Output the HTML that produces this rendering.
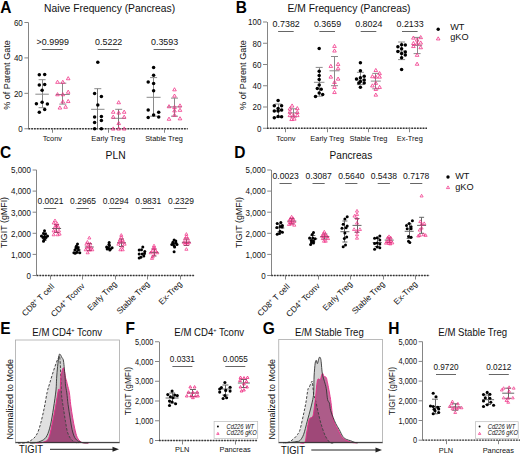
<!DOCTYPE html>
<html><head><meta charset="utf-8"><style>
html,body{margin:0;padding:0;background:#fff;width:520px;height:457px;overflow:hidden;position:relative;font-family:"Liberation Sans", sans-serif}
svg text{stroke:none}
</style></head><body>
<svg width="520" height="457" viewBox="0 0 520 457" style="position:absolute;left:0;top:0;font-family:'Liberation Sans', sans-serif">
<rect width="520" height="457" fill="#fff"/>
<text x="0" y="0" font-size="15.5" text-anchor="start" font-weight="bold" font-style="normal" fill="#000" transform="translate(0.3 12.6) scale(1 1.1)">A</text>
<text x="44" y="12" font-size="10.3" text-anchor="start" font-weight="normal" font-style="normal" fill="#111">Naive Frequency (Pancreas)</text>
<line x1="28.5" y1="22.5" x2="28.5" y2="128.75" stroke="#858585" stroke-width="1"/>
<line x1="24.4" y1="128.75" x2="28.4" y2="128.75" stroke="#858585" stroke-width="1"/>
<text x="0" y="0" font-size="8.0" text-anchor="end" font-weight="normal" font-style="normal" fill="#111" transform="translate(22.799999999999997 132.062) scale(1 1.15)">0</text>
<line x1="24.4" y1="93.33333333333334" x2="28.4" y2="93.33333333333334" stroke="#858585" stroke-width="1"/>
<text x="0" y="0" font-size="8.0" text-anchor="end" font-weight="normal" font-style="normal" fill="#111" transform="translate(22.799999999999997 96.64533333333334) scale(1 1.15)">20</text>
<line x1="24.4" y1="57.91666666666667" x2="28.4" y2="57.91666666666667" stroke="#858585" stroke-width="1"/>
<text x="0" y="0" font-size="8.0" text-anchor="end" font-weight="normal" font-style="normal" fill="#111" transform="translate(22.799999999999997 61.22866666666667) scale(1 1.15)">40</text>
<line x1="24.4" y1="22.5" x2="28.4" y2="22.5" stroke="#858585" stroke-width="1"/>
<text x="0" y="0" font-size="8.0" text-anchor="end" font-weight="normal" font-style="normal" fill="#111" transform="translate(22.799999999999997 25.812) scale(1 1.15)">60</text>
<text x="10.4" y="75" font-size="9.1" text-anchor="middle" font-weight="normal" font-style="normal" fill="#111" transform="rotate(-90 10.4 75)">% of Parent Gate</text>
<line x1="28.4" y1="128.75" x2="187.7" y2="128.75" stroke="#ccc" stroke-width="1.0"/>
<line x1="28.4" y1="128.75" x2="187.7" y2="128.75" stroke="#333" stroke-width="1.3" stroke-dasharray="1.7 1.13"/>
<line x1="52.5" y1="128.75" x2="52.5" y2="132.75" stroke="#858585" stroke-width="1"/>
<line x1="108.5" y1="128.75" x2="108.5" y2="132.75" stroke="#858585" stroke-width="1"/>
<line x1="164.5" y1="128.75" x2="164.5" y2="132.75" stroke="#858585" stroke-width="1"/>
<text x="52.3" y="141.2" font-size="7.4" text-anchor="middle" font-weight="normal" font-style="normal" fill="#111">Tconv</text>
<text x="108.2" y="141.2" font-size="7.4" text-anchor="middle" font-weight="normal" font-style="normal" fill="#111">Early Treg</text>
<text x="164.1" y="141.2" font-size="7.4" text-anchor="middle" font-weight="normal" font-style="normal" fill="#111">Stable Treg</text>
<text x="0" y="0" font-size="8.9" text-anchor="middle" font-weight="normal" font-style="normal" fill="#111" transform="translate(52.8 44.6) scale(1 1.1)">&gt;0.9999</text>
<line x1="41.8" y1="49.5" x2="62.8" y2="49.5" stroke="#666" stroke-width="1"/>
<text x="0" y="0" font-size="8.9" text-anchor="middle" font-weight="normal" font-style="normal" fill="#111" transform="translate(108.7 44.6) scale(1 1.1)">0.5222</text>
<line x1="97.7" y1="49.5" x2="118.7" y2="49.5" stroke="#666" stroke-width="1"/>
<text x="0" y="0" font-size="8.9" text-anchor="middle" font-weight="normal" font-style="normal" fill="#111" transform="translate(164.6 44.6) scale(1 1.1)">0.3593</text>
<line x1="153.6" y1="49.5" x2="174.6" y2="49.5" stroke="#666" stroke-width="1"/>
<line x1="42.5" y1="79.7" x2="42.5" y2="107.7" stroke="#8a8a8a" stroke-width="1"/>
<line x1="38.6" y1="79.7" x2="45.6" y2="79.7" stroke="#8a8a8a" stroke-width="1"/>
<line x1="38.6" y1="107.7" x2="45.6" y2="107.7" stroke="#8a8a8a" stroke-width="1"/>
<line x1="35.35" y1="94.2" x2="48.85" y2="94.2" stroke="#8a8a8a" stroke-width="1"/>
<circle cx="39.30" cy="74.70" r="1.75" fill="#000"/>
<circle cx="44.70" cy="74.40" r="1.75" fill="#000"/>
<circle cx="39.30" cy="84.90" r="1.75" fill="#000"/>
<circle cx="44.70" cy="84.60" r="1.75" fill="#000"/>
<circle cx="42.10" cy="90.20" r="1.75" fill="#000"/>
<circle cx="42.10" cy="102.30" r="1.75" fill="#000"/>
<circle cx="36.40" cy="103.70" r="1.75" fill="#000"/>
<circle cx="47.40" cy="104.10" r="1.75" fill="#000"/>
<circle cx="44.70" cy="109.40" r="1.75" fill="#000"/>
<circle cx="39.30" cy="112.20" r="1.75" fill="#000"/>
<line x1="62.5" y1="83.2" x2="62.5" y2="104.1" stroke="#8a8a8a" stroke-width="1"/>
<line x1="59.3" y1="83.2" x2="66.3" y2="83.2" stroke="#8a8a8a" stroke-width="1"/>
<line x1="59.3" y1="104.1" x2="66.3" y2="104.1" stroke="#8a8a8a" stroke-width="1"/>
<line x1="55.8" y1="94.5" x2="69.8" y2="94.5" stroke="#8a8a8a" stroke-width="1"/>
<path d="M68.20 76.62 L70.00 79.75 L66.40 79.75 Z" fill="#fff" fill-opacity="0.0" stroke="#f02a82" stroke-width="0.75" stroke-linejoin="round"/>
<path d="M57.50 80.22 L59.30 83.35 L55.70 83.35 Z" fill="#fff" fill-opacity="0.0" stroke="#f02a82" stroke-width="0.75" stroke-linejoin="round"/>
<path d="M62.80 80.22 L64.60 83.35 L61.00 83.35 Z" fill="#fff" fill-opacity="0.0" stroke="#f02a82" stroke-width="0.75" stroke-linejoin="round"/>
<path d="M57.50 92.62 L59.30 95.75 L55.70 95.75 Z" fill="#fff" fill-opacity="0.0" stroke="#f02a82" stroke-width="0.75" stroke-linejoin="round"/>
<path d="M68.20 90.12 L70.00 93.25 L66.40 93.25 Z" fill="#fff" fill-opacity="0.0" stroke="#f02a82" stroke-width="0.75" stroke-linejoin="round"/>
<path d="M62.80 92.62 L64.60 95.75 L61.00 95.75 Z" fill="#fff" fill-opacity="0.0" stroke="#f02a82" stroke-width="0.75" stroke-linejoin="round"/>
<path d="M62.80 99.82 L64.60 102.95 L61.00 102.95 Z" fill="#fff" fill-opacity="0.0" stroke="#f02a82" stroke-width="0.75" stroke-linejoin="round"/>
<path d="M68.20 99.42 L70.00 102.55 L66.40 102.55 Z" fill="#fff" fill-opacity="0.0" stroke="#f02a82" stroke-width="0.75" stroke-linejoin="round"/>
<path d="M59.90 105.92 L61.70 109.05 L58.10 109.05 Z" fill="#fff" fill-opacity="0.0" stroke="#f02a82" stroke-width="0.75" stroke-linejoin="round"/>
<path d="M65.60 105.12 L67.40 108.25 L63.80 108.25 Z" fill="#fff" fill-opacity="0.0" stroke="#f02a82" stroke-width="0.75" stroke-linejoin="round"/>
<line x1="94.3" y1="88.7" x2="101.3" y2="88.7" stroke="#8a8a8a" stroke-width="1"/>
<line x1="91.1" y1="109.3" x2="104.5" y2="109.3" stroke="#8a8a8a" stroke-width="1"/>
<line x1="97.5" y1="88.7" x2="97.5" y2="128.75" stroke="#777" stroke-width="1"/>
<circle cx="97.80" cy="62.20" r="1.75" fill="#000"/>
<circle cx="94.60" cy="93.50" r="1.75" fill="#000"/>
<circle cx="101.40" cy="96.50" r="1.75" fill="#000"/>
<circle cx="97.80" cy="104.90" r="1.75" fill="#000"/>
<circle cx="94.60" cy="117.00" r="1.75" fill="#000"/>
<circle cx="101.40" cy="116.40" r="1.75" fill="#000"/>
<circle cx="94.60" cy="122.50" r="1.75" fill="#000"/>
<circle cx="101.40" cy="120.50" r="1.75" fill="#000"/>
<circle cx="94.60" cy="128.80" r="1.75" fill="#000"/>
<circle cx="101.40" cy="128.80" r="1.75" fill="#000"/>
<line x1="115.2" y1="109.3" x2="122.2" y2="109.3" stroke="#8a8a8a" stroke-width="1"/>
<line x1="111.7" y1="118.3" x2="125.7" y2="118.3" stroke="#8a8a8a" stroke-width="1"/>
<line x1="118.5" y1="109.3" x2="118.5" y2="128.75" stroke="#777" stroke-width="1"/>
<path d="M118.70 100.62 L120.50 103.75 L116.90 103.75 Z" fill="#fff" fill-opacity="0.0" stroke="#f02a82" stroke-width="0.75" stroke-linejoin="round"/>
<path d="M113.20 110.12 L115.00 113.25 L111.40 113.25 Z" fill="#fff" fill-opacity="0.0" stroke="#f02a82" stroke-width="0.75" stroke-linejoin="round"/>
<path d="M118.70 110.92 L120.50 114.05 L116.90 114.05 Z" fill="#fff" fill-opacity="0.0" stroke="#f02a82" stroke-width="0.75" stroke-linejoin="round"/>
<path d="M124.20 110.12 L126.00 113.25 L122.40 113.25 Z" fill="#fff" fill-opacity="0.0" stroke="#f02a82" stroke-width="0.75" stroke-linejoin="round"/>
<path d="M113.20 115.12 L115.00 118.25 L111.40 118.25 Z" fill="#fff" fill-opacity="0.0" stroke="#f02a82" stroke-width="0.75" stroke-linejoin="round"/>
<path d="M124.20 115.12 L126.00 118.25 L122.40 118.25 Z" fill="#fff" fill-opacity="0.0" stroke="#f02a82" stroke-width="0.75" stroke-linejoin="round"/>
<path d="M118.70 121.42 L120.50 124.55 L116.90 124.55 Z" fill="#fff" fill-opacity="0.0" stroke="#f02a82" stroke-width="0.75" stroke-linejoin="round"/>
<path d="M113.20 126.92 L115.00 130.05 L111.40 130.05 Z" fill="#fff" fill-opacity="0.0" stroke="#f02a82" stroke-width="0.75" stroke-linejoin="round"/>
<path d="M118.70 126.92 L120.50 130.05 L116.90 130.05 Z" fill="#fff" fill-opacity="0.0" stroke="#f02a82" stroke-width="0.75" stroke-linejoin="round"/>
<path d="M124.20 126.92 L126.00 130.05 L122.40 130.05 Z" fill="#fff" fill-opacity="0.0" stroke="#f02a82" stroke-width="0.75" stroke-linejoin="round"/>
<line x1="153.5" y1="77.6" x2="153.5" y2="116.2" stroke="#8a8a8a" stroke-width="1"/>
<line x1="150.1" y1="77.6" x2="157.1" y2="77.6" stroke="#8a8a8a" stroke-width="1"/>
<line x1="150.1" y1="116.2" x2="157.1" y2="116.2" stroke="#8a8a8a" stroke-width="1"/>
<line x1="146.6" y1="97.3" x2="160.6" y2="97.3" stroke="#8a8a8a" stroke-width="1"/>
<circle cx="153.60" cy="67.40" r="1.75" fill="#000"/>
<circle cx="153.60" cy="75.30" r="1.75" fill="#000"/>
<circle cx="148.20" cy="82.00" r="1.75" fill="#000"/>
<circle cx="153.60" cy="83.60" r="1.75" fill="#000"/>
<circle cx="153.60" cy="90.70" r="1.75" fill="#000"/>
<circle cx="148.20" cy="110.10" r="1.75" fill="#000"/>
<circle cx="158.70" cy="112.30" r="1.75" fill="#000"/>
<circle cx="153.60" cy="115.10" r="1.75" fill="#000"/>
<circle cx="148.20" cy="117.50" r="1.75" fill="#000"/>
<circle cx="158.70" cy="117.00" r="1.75" fill="#000"/>
<line x1="174.5" y1="98.1" x2="174.5" y2="116.2" stroke="#8a8a8a" stroke-width="1"/>
<line x1="171.0" y1="98.1" x2="178.0" y2="98.1" stroke="#8a8a8a" stroke-width="1"/>
<line x1="171.0" y1="116.2" x2="178.0" y2="116.2" stroke="#8a8a8a" stroke-width="1"/>
<line x1="167.5" y1="106.9" x2="181.5" y2="106.9" stroke="#8a8a8a" stroke-width="1"/>
<path d="M174.50 87.72 L176.30 90.85 L172.70 90.85 Z" fill="#fff" fill-opacity="0.0" stroke="#f02a82" stroke-width="0.75" stroke-linejoin="round"/>
<path d="M174.50 94.02 L176.30 97.15 L172.70 97.15 Z" fill="#fff" fill-opacity="0.0" stroke="#f02a82" stroke-width="0.75" stroke-linejoin="round"/>
<path d="M169.00 104.62 L170.80 107.75 L167.20 107.75 Z" fill="#fff" fill-opacity="0.0" stroke="#f02a82" stroke-width="0.75" stroke-linejoin="round"/>
<path d="M180.00 103.82 L181.80 106.95 L178.20 106.95 Z" fill="#fff" fill-opacity="0.0" stroke="#f02a82" stroke-width="0.75" stroke-linejoin="round"/>
<path d="M180.00 108.22 L181.80 111.35 L178.20 111.35 Z" fill="#fff" fill-opacity="0.0" stroke="#f02a82" stroke-width="0.75" stroke-linejoin="round"/>
<path d="M174.50 108.82 L176.30 111.95 L172.70 111.95 Z" fill="#fff" fill-opacity="0.0" stroke="#f02a82" stroke-width="0.75" stroke-linejoin="round"/>
<path d="M174.50 113.22 L176.30 116.35 L172.70 116.35 Z" fill="#fff" fill-opacity="0.0" stroke="#f02a82" stroke-width="0.75" stroke-linejoin="round"/>
<path d="M169.00 117.12 L170.80 120.25 L167.20 120.25 Z" fill="#fff" fill-opacity="0.0" stroke="#f02a82" stroke-width="0.75" stroke-linejoin="round"/>
<path d="M180.00 116.72 L181.80 119.85 L178.20 119.85 Z" fill="#fff" fill-opacity="0.0" stroke="#f02a82" stroke-width="0.75" stroke-linejoin="round"/>
<path d="M174.50 105.32 L176.30 108.45 L172.70 108.45 Z" fill="#fff" fill-opacity="0.0" stroke="#f02a82" stroke-width="0.75" stroke-linejoin="round"/>
<text x="0" y="0" font-size="15.5" text-anchor="start" font-weight="bold" font-style="normal" fill="#000" transform="translate(235.8 12.6) scale(1 1.1)">B</text>
<text x="287.5" y="12" font-size="10.3" text-anchor="start" font-weight="normal" font-style="normal" fill="#111">E/M Frequency (Pancreas)</text>
<line x1="267.5" y1="22" x2="267.5" y2="128.25" stroke="#858585" stroke-width="1"/>
<line x1="263.0" y1="128.25" x2="267.0" y2="128.25" stroke="#858585" stroke-width="1"/>
<text x="0" y="0" font-size="8.0" text-anchor="end" font-weight="normal" font-style="normal" fill="#111" transform="translate(261.4 131.562) scale(1 1.15)">0</text>
<line x1="263.0" y1="107.0" x2="267.0" y2="107.0" stroke="#858585" stroke-width="1"/>
<text x="0" y="0" font-size="8.0" text-anchor="end" font-weight="normal" font-style="normal" fill="#111" transform="translate(261.4 110.312) scale(1 1.15)">20</text>
<line x1="263.0" y1="85.75" x2="267.0" y2="85.75" stroke="#858585" stroke-width="1"/>
<text x="0" y="0" font-size="8.0" text-anchor="end" font-weight="normal" font-style="normal" fill="#111" transform="translate(261.4 89.062) scale(1 1.15)">40</text>
<line x1="263.0" y1="64.5" x2="267.0" y2="64.5" stroke="#858585" stroke-width="1"/>
<text x="0" y="0" font-size="8.0" text-anchor="end" font-weight="normal" font-style="normal" fill="#111" transform="translate(261.4 67.812) scale(1 1.15)">60</text>
<line x1="263.0" y1="43.25" x2="267.0" y2="43.25" stroke="#858585" stroke-width="1"/>
<text x="0" y="0" font-size="8.0" text-anchor="end" font-weight="normal" font-style="normal" fill="#111" transform="translate(261.4 46.562) scale(1 1.15)">80</text>
<line x1="263.0" y1="22.0" x2="267.0" y2="22.0" stroke="#858585" stroke-width="1"/>
<text x="0" y="0" font-size="8.0" text-anchor="end" font-weight="normal" font-style="normal" fill="#111" transform="translate(261.4 25.312) scale(1 1.15)">100</text>
<text x="245.6" y="75" font-size="9.1" text-anchor="middle" font-weight="normal" font-style="normal" fill="#111" transform="rotate(-90 245.6 75)">% of Parent Gate</text>
<line x1="267.0" y1="128.25" x2="427" y2="128.25" stroke="#ccc" stroke-width="1.0"/>
<line x1="267.0" y1="128.25" x2="427" y2="128.25" stroke="#333" stroke-width="1.3" stroke-dasharray="1.7 1.13"/>
<line x1="285.5" y1="128.25" x2="285.5" y2="132.25" stroke="#858585" stroke-width="1"/>
<line x1="327.5" y1="128.25" x2="327.5" y2="132.25" stroke="#858585" stroke-width="1"/>
<line x1="368.5" y1="128.25" x2="368.5" y2="132.25" stroke="#858585" stroke-width="1"/>
<line x1="409.5" y1="128.25" x2="409.5" y2="132.25" stroke="#858585" stroke-width="1"/>
<text x="285.9" y="140.5" font-size="7.4" text-anchor="middle" font-weight="normal" font-style="normal" fill="#111">Tconv</text>
<text x="327.2" y="140.5" font-size="7.4" text-anchor="middle" font-weight="normal" font-style="normal" fill="#111">Early Treg</text>
<text x="368.5" y="140.5" font-size="7.4" text-anchor="middle" font-weight="normal" font-style="normal" fill="#111">Stable Treg</text>
<text x="409.8" y="140.5" font-size="7.4" text-anchor="middle" font-weight="normal" font-style="normal" fill="#111">Ex-Treg</text>
<text x="0" y="0" font-size="8.9" text-anchor="middle" font-weight="normal" font-style="normal" fill="#111" transform="translate(286.2 26.5) scale(1 1.1)">0.7382</text>
<line x1="278.09999999999997" y1="31.5" x2="293.7" y2="31.5" stroke="#666" stroke-width="1"/>
<text x="0" y="0" font-size="8.9" text-anchor="middle" font-weight="normal" font-style="normal" fill="#111" transform="translate(327.5 26.5) scale(1 1.1)">0.3659</text>
<line x1="319.4" y1="31.5" x2="335.0" y2="31.5" stroke="#666" stroke-width="1"/>
<text x="0" y="0" font-size="8.9" text-anchor="middle" font-weight="normal" font-style="normal" fill="#111" transform="translate(368.8 26.5) scale(1 1.1)">0.8024</text>
<line x1="360.7" y1="31.5" x2="376.3" y2="31.5" stroke="#666" stroke-width="1"/>
<text x="0" y="0" font-size="8.9" text-anchor="middle" font-weight="normal" font-style="normal" fill="#111" transform="translate(410.1 26.5) scale(1 1.1)">0.2133</text>
<line x1="402.0" y1="31.5" x2="417.6" y2="31.5" stroke="#666" stroke-width="1"/>
<line x1="278.5" y1="104" x2="278.5" y2="117.5" stroke="#8a8a8a" stroke-width="1"/>
<line x1="274.6" y1="104" x2="281.6" y2="104" stroke="#8a8a8a" stroke-width="1"/>
<line x1="274.6" y1="117.5" x2="281.6" y2="117.5" stroke="#8a8a8a" stroke-width="1"/>
<line x1="273.1" y1="110.8" x2="283.1" y2="110.8" stroke="#8a8a8a" stroke-width="1"/>
<circle cx="278.10" cy="100.50" r="1.75" fill="#000"/>
<circle cx="274.30" cy="105.80" r="1.75" fill="#000"/>
<circle cx="281.60" cy="105.80" r="1.75" fill="#000"/>
<circle cx="278.10" cy="108.40" r="1.75" fill="#000"/>
<circle cx="274.30" cy="111.00" r="1.75" fill="#000"/>
<circle cx="281.60" cy="110.10" r="1.75" fill="#000"/>
<circle cx="278.10" cy="111.00" r="1.75" fill="#000"/>
<circle cx="274.30" cy="117.80" r="1.75" fill="#000"/>
<circle cx="278.10" cy="116.40" r="1.75" fill="#000"/>
<circle cx="281.60" cy="116.70" r="1.75" fill="#000"/>
<line x1="293.5" y1="108.8" x2="293.5" y2="117" stroke="#8a8a8a" stroke-width="1"/>
<line x1="289.9" y1="108.8" x2="296.9" y2="108.8" stroke="#8a8a8a" stroke-width="1"/>
<line x1="289.9" y1="117" x2="296.9" y2="117" stroke="#8a8a8a" stroke-width="1"/>
<line x1="288.4" y1="112.9" x2="298.4" y2="112.9" stroke="#8a8a8a" stroke-width="1"/>
<path d="M292.10 103.92 L293.90 107.05 L290.30 107.05 Z" fill="#fff" fill-opacity="0.0" stroke="#f02a82" stroke-width="0.75" stroke-linejoin="round"/>
<path d="M289.90 106.92 L291.70 110.05 L288.10 110.05 Z" fill="#fff" fill-opacity="0.0" stroke="#f02a82" stroke-width="0.75" stroke-linejoin="round"/>
<path d="M297.30 106.52 L299.10 109.65 L295.50 109.65 Z" fill="#fff" fill-opacity="0.0" stroke="#f02a82" stroke-width="0.75" stroke-linejoin="round"/>
<path d="M289.90 113.52 L291.70 116.65 L288.10 116.65 Z" fill="#fff" fill-opacity="0.0" stroke="#f02a82" stroke-width="0.75" stroke-linejoin="round"/>
<path d="M293.40 113.52 L295.20 116.65 L291.60 116.65 Z" fill="#fff" fill-opacity="0.0" stroke="#f02a82" stroke-width="0.75" stroke-linejoin="round"/>
<path d="M297.30 113.52 L299.10 116.65 L295.50 116.65 Z" fill="#fff" fill-opacity="0.0" stroke="#f02a82" stroke-width="0.75" stroke-linejoin="round"/>
<path d="M291.60 117.42 L293.40 120.55 L289.80 120.55 Z" fill="#fff" fill-opacity="0.0" stroke="#f02a82" stroke-width="0.75" stroke-linejoin="round"/>
<path d="M294.30 117.02 L296.10 120.15 L292.50 120.15 Z" fill="#fff" fill-opacity="0.0" stroke="#f02a82" stroke-width="0.75" stroke-linejoin="round"/>
<path d="M289.90 110.12 L291.70 113.25 L288.10 113.25 Z" fill="#fff" fill-opacity="0.0" stroke="#f02a82" stroke-width="0.75" stroke-linejoin="round"/>
<path d="M297.30 110.42 L299.10 113.55 L295.50 113.55 Z" fill="#fff" fill-opacity="0.0" stroke="#f02a82" stroke-width="0.75" stroke-linejoin="round"/>
<line x1="319.5" y1="67.4" x2="319.5" y2="96.2" stroke="#8a8a8a" stroke-width="1"/>
<line x1="315.7" y1="67.4" x2="322.7" y2="67.4" stroke="#8a8a8a" stroke-width="1"/>
<line x1="315.7" y1="96.2" x2="322.7" y2="96.2" stroke="#8a8a8a" stroke-width="1"/>
<line x1="313.95" y1="82.3" x2="324.45" y2="82.3" stroke="#8a8a8a" stroke-width="1"/>
<circle cx="319.20" cy="48.50" r="1.75" fill="#000"/>
<circle cx="319.20" cy="71.20" r="1.75" fill="#000"/>
<circle cx="319.20" cy="75.40" r="1.75" fill="#000"/>
<circle cx="319.20" cy="79.50" r="1.75" fill="#000"/>
<circle cx="319.20" cy="85.10" r="1.75" fill="#000"/>
<circle cx="317.30" cy="88.50" r="1.75" fill="#000"/>
<circle cx="321.20" cy="89.20" r="1.75" fill="#000"/>
<circle cx="319.20" cy="93.10" r="1.75" fill="#000"/>
<circle cx="322.70" cy="94.60" r="1.75" fill="#000"/>
<circle cx="315.50" cy="96.50" r="1.75" fill="#000"/>
<line x1="334.5" y1="56.5" x2="334.5" y2="85.7" stroke="#8a8a8a" stroke-width="1"/>
<line x1="331.0" y1="56.5" x2="338.0" y2="56.5" stroke="#8a8a8a" stroke-width="1"/>
<line x1="331.0" y1="85.7" x2="338.0" y2="85.7" stroke="#8a8a8a" stroke-width="1"/>
<line x1="329.5" y1="70.8" x2="339.5" y2="70.8" stroke="#8a8a8a" stroke-width="1"/>
<path d="M334.50 44.32 L336.30 47.45 L332.70 47.45 Z" fill="#fff" fill-opacity="0.0" stroke="#f02a82" stroke-width="0.75" stroke-linejoin="round"/>
<path d="M334.50 48.92 L336.30 52.05 L332.70 52.05 Z" fill="#fff" fill-opacity="0.0" stroke="#f02a82" stroke-width="0.75" stroke-linejoin="round"/>
<path d="M330.80 64.32 L332.60 67.45 L329.00 67.45 Z" fill="#fff" fill-opacity="0.0" stroke="#f02a82" stroke-width="0.75" stroke-linejoin="round"/>
<path d="M338.10 62.32 L339.90 65.45 L336.30 65.45 Z" fill="#fff" fill-opacity="0.0" stroke="#f02a82" stroke-width="0.75" stroke-linejoin="round"/>
<path d="M338.10 66.62 L339.90 69.75 L336.30 69.75 Z" fill="#fff" fill-opacity="0.0" stroke="#f02a82" stroke-width="0.75" stroke-linejoin="round"/>
<path d="M330.80 75.02 L332.60 78.15 L329.00 78.15 Z" fill="#fff" fill-opacity="0.0" stroke="#f02a82" stroke-width="0.75" stroke-linejoin="round"/>
<path d="M338.10 77.02 L339.90 80.15 L336.30 80.15 Z" fill="#fff" fill-opacity="0.0" stroke="#f02a82" stroke-width="0.75" stroke-linejoin="round"/>
<path d="M334.50 80.42 L336.30 83.55 L332.70 83.55 Z" fill="#fff" fill-opacity="0.0" stroke="#f02a82" stroke-width="0.75" stroke-linejoin="round"/>
<path d="M334.50 85.32 L336.30 88.45 L332.70 88.45 Z" fill="#fff" fill-opacity="0.0" stroke="#f02a82" stroke-width="0.75" stroke-linejoin="round"/>
<path d="M334.50 90.42 L336.30 93.55 L332.70 93.55 Z" fill="#fff" fill-opacity="0.0" stroke="#f02a82" stroke-width="0.75" stroke-linejoin="round"/>
<line x1="360.5" y1="72.3" x2="360.5" y2="84.6" stroke="#8a8a8a" stroke-width="1"/>
<line x1="356.9" y1="72.3" x2="363.9" y2="72.3" stroke="#8a8a8a" stroke-width="1"/>
<line x1="356.9" y1="84.6" x2="363.9" y2="84.6" stroke="#8a8a8a" stroke-width="1"/>
<line x1="355.4" y1="80" x2="365.4" y2="80" stroke="#8a8a8a" stroke-width="1"/>
<circle cx="360.40" cy="62.80" r="1.75" fill="#000"/>
<circle cx="360.40" cy="70.80" r="1.75" fill="#000"/>
<circle cx="356.50" cy="78.90" r="1.75" fill="#000"/>
<circle cx="360.40" cy="77.70" r="1.75" fill="#000"/>
<circle cx="364.20" cy="76.20" r="1.75" fill="#000"/>
<circle cx="364.20" cy="80.00" r="1.75" fill="#000"/>
<circle cx="360.40" cy="81.50" r="1.75" fill="#000"/>
<circle cx="364.20" cy="83.10" r="1.75" fill="#000"/>
<circle cx="358.80" cy="83.10" r="1.75" fill="#000"/>
<circle cx="360.40" cy="87.20" r="1.75" fill="#000"/>
<line x1="375.5" y1="73.4" x2="375.5" y2="88.8" stroke="#8a8a8a" stroke-width="1"/>
<line x1="372.3" y1="73.4" x2="379.3" y2="73.4" stroke="#8a8a8a" stroke-width="1"/>
<line x1="372.3" y1="88.8" x2="379.3" y2="88.8" stroke="#8a8a8a" stroke-width="1"/>
<line x1="370.8" y1="81.1" x2="380.8" y2="81.1" stroke="#8a8a8a" stroke-width="1"/>
<path d="M375.80 68.42 L377.60 71.55 L374.00 71.55 Z" fill="#fff" fill-opacity="0.0" stroke="#f02a82" stroke-width="0.75" stroke-linejoin="round"/>
<path d="M379.60 71.52 L381.40 74.65 L377.80 74.65 Z" fill="#fff" fill-opacity="0.0" stroke="#f02a82" stroke-width="0.75" stroke-linejoin="round"/>
<path d="M372.40 74.62 L374.20 77.75 L370.60 77.75 Z" fill="#fff" fill-opacity="0.0" stroke="#f02a82" stroke-width="0.75" stroke-linejoin="round"/>
<path d="M379.60 75.02 L381.40 78.15 L377.80 78.15 Z" fill="#fff" fill-opacity="0.0" stroke="#f02a82" stroke-width="0.75" stroke-linejoin="round"/>
<path d="M375.80 75.02 L377.60 78.15 L374.00 78.15 Z" fill="#fff" fill-opacity="0.0" stroke="#f02a82" stroke-width="0.75" stroke-linejoin="round"/>
<path d="M375.80 81.22 L377.60 84.35 L374.00 84.35 Z" fill="#fff" fill-opacity="0.0" stroke="#f02a82" stroke-width="0.75" stroke-linejoin="round"/>
<path d="M372.40 83.82 L374.20 86.95 L370.60 86.95 Z" fill="#fff" fill-opacity="0.0" stroke="#f02a82" stroke-width="0.75" stroke-linejoin="round"/>
<path d="M379.60 85.32 L381.40 88.45 L377.80 88.45 Z" fill="#fff" fill-opacity="0.0" stroke="#f02a82" stroke-width="0.75" stroke-linejoin="round"/>
<path d="M375.80 87.32 L377.60 90.45 L374.00 90.45 Z" fill="#fff" fill-opacity="0.0" stroke="#f02a82" stroke-width="0.75" stroke-linejoin="round"/>
<path d="M375.80 93.02 L377.60 96.15 L374.00 96.15 Z" fill="#fff" fill-opacity="0.0" stroke="#f02a82" stroke-width="0.75" stroke-linejoin="round"/>
<line x1="401.5" y1="42" x2="401.5" y2="59.6" stroke="#8a8a8a" stroke-width="1"/>
<line x1="398.1" y1="42" x2="405.1" y2="42" stroke="#8a8a8a" stroke-width="1"/>
<line x1="398.1" y1="59.6" x2="405.1" y2="59.6" stroke="#8a8a8a" stroke-width="1"/>
<line x1="396.6" y1="51" x2="406.6" y2="51" stroke="#8a8a8a" stroke-width="1"/>
<circle cx="401.60" cy="44.80" r="1.75" fill="#000"/>
<circle cx="405.30" cy="45.00" r="1.75" fill="#000"/>
<circle cx="397.90" cy="46.70" r="1.75" fill="#000"/>
<circle cx="401.60" cy="48.70" r="1.75" fill="#000"/>
<circle cx="397.90" cy="51.50" r="1.75" fill="#000"/>
<circle cx="401.60" cy="53.40" r="1.75" fill="#000"/>
<circle cx="405.30" cy="51.90" r="1.75" fill="#000"/>
<circle cx="405.30" cy="55.10" r="1.75" fill="#000"/>
<circle cx="401.60" cy="57.80" r="1.75" fill="#000"/>
<circle cx="401.60" cy="69.60" r="1.75" fill="#000"/>
<line x1="417.5" y1="37.4" x2="417.5" y2="53.6" stroke="#8a8a8a" stroke-width="1"/>
<line x1="413.6" y1="37.4" x2="420.6" y2="37.4" stroke="#8a8a8a" stroke-width="1"/>
<line x1="413.6" y1="53.6" x2="420.6" y2="53.6" stroke="#8a8a8a" stroke-width="1"/>
<line x1="412.1" y1="45.3" x2="422.1" y2="45.3" stroke="#8a8a8a" stroke-width="1"/>
<path d="M413.40 36.02 L415.20 39.15 L411.60 39.15 Z" fill="#fff" fill-opacity="0.0" stroke="#f02a82" stroke-width="0.75" stroke-linejoin="round"/>
<path d="M420.70 35.52 L422.50 38.65 L418.90 38.65 Z" fill="#fff" fill-opacity="0.0" stroke="#f02a82" stroke-width="0.75" stroke-linejoin="round"/>
<path d="M417.10 38.02 L418.90 41.15 L415.30 41.15 Z" fill="#fff" fill-opacity="0.0" stroke="#f02a82" stroke-width="0.75" stroke-linejoin="round"/>
<path d="M413.40 41.42 L415.20 44.55 L411.60 44.55 Z" fill="#fff" fill-opacity="0.0" stroke="#f02a82" stroke-width="0.75" stroke-linejoin="round"/>
<path d="M420.70 40.92 L422.50 44.05 L418.90 44.05 Z" fill="#fff" fill-opacity="0.0" stroke="#f02a82" stroke-width="0.75" stroke-linejoin="round"/>
<path d="M417.10 41.92 L418.90 45.05 L415.30 45.05 Z" fill="#fff" fill-opacity="0.0" stroke="#f02a82" stroke-width="0.75" stroke-linejoin="round"/>
<path d="M413.40 44.42 L415.20 47.55 L411.60 47.55 Z" fill="#fff" fill-opacity="0.0" stroke="#f02a82" stroke-width="0.75" stroke-linejoin="round"/>
<path d="M420.70 45.62 L422.50 48.75 L418.90 48.75 Z" fill="#fff" fill-opacity="0.0" stroke="#f02a82" stroke-width="0.75" stroke-linejoin="round"/>
<path d="M417.10 53.22 L418.90 56.35 L415.30 56.35 Z" fill="#fff" fill-opacity="0.0" stroke="#f02a82" stroke-width="0.75" stroke-linejoin="round"/>
<path d="M417.10 62.12 L418.90 65.25 L415.30 65.25 Z" fill="#fff" fill-opacity="0.0" stroke="#f02a82" stroke-width="0.75" stroke-linejoin="round"/>
<circle cx="438.20" cy="29.20" r="1.7" fill="#000"/>
<text x="450.2" y="29.6" font-size="9.2" text-anchor="start" font-weight="normal" font-style="normal" fill="#111">WT</text>
<path d="M438.20 36.82 L440.00 39.95 L436.40 39.95 Z" fill="#fff" fill-opacity="0.0" stroke="#f02a82" stroke-width="0.75" stroke-linejoin="round"/>
<text x="450.2" y="39.6" font-size="9.2" text-anchor="start" font-weight="normal" font-style="normal" fill="#111">gKO</text>
<text x="0" y="0" font-size="15.5" text-anchor="start" font-weight="bold" font-style="normal" fill="#000" transform="translate(0 158.3) scale(1 1.1)">C</text>
<text x="105.6" y="159.4" font-size="10.3" text-anchor="start" font-weight="normal" font-style="normal" fill="#111">PLN</text>
<line x1="36.5" y1="170" x2="36.5" y2="275.5" stroke="#858585" stroke-width="1"/>
<line x1="32.6" y1="275.5" x2="36.6" y2="275.5" stroke="#858585" stroke-width="1"/>
<text x="0" y="0" font-size="8.0" text-anchor="end" font-weight="normal" font-style="normal" fill="#111" transform="translate(31.0 278.812) scale(1 1.15)">0</text>
<line x1="32.6" y1="254.4" x2="36.6" y2="254.4" stroke="#858585" stroke-width="1"/>
<text x="0" y="0" font-size="8.0" text-anchor="end" font-weight="normal" font-style="normal" fill="#111" transform="translate(31.0 257.712) scale(1 1.15)">1,000</text>
<line x1="32.6" y1="233.3" x2="36.6" y2="233.3" stroke="#858585" stroke-width="1"/>
<text x="0" y="0" font-size="8.0" text-anchor="end" font-weight="normal" font-style="normal" fill="#111" transform="translate(31.0 236.61200000000002) scale(1 1.15)">2,000</text>
<line x1="32.6" y1="212.2" x2="36.6" y2="212.2" stroke="#858585" stroke-width="1"/>
<text x="0" y="0" font-size="8.0" text-anchor="end" font-weight="normal" font-style="normal" fill="#111" transform="translate(31.0 215.512) scale(1 1.15)">3,000</text>
<line x1="32.6" y1="191.1" x2="36.6" y2="191.1" stroke="#858585" stroke-width="1"/>
<text x="0" y="0" font-size="8.0" text-anchor="end" font-weight="normal" font-style="normal" fill="#111" transform="translate(31.0 194.412) scale(1 1.15)">4,000</text>
<line x1="32.6" y1="170.0" x2="36.6" y2="170.0" stroke="#858585" stroke-width="1"/>
<text x="0" y="0" font-size="8.0" text-anchor="end" font-weight="normal" font-style="normal" fill="#111" transform="translate(31.0 173.312) scale(1 1.15)">5,000</text>
<text x="6.9" y="222.5" font-size="8.9" text-anchor="middle" font-weight="normal" font-style="normal" fill="#111" transform="rotate(-90 6.9 222.5)">TIGIT (gMFI)</text>
<line x1="36.6" y1="275.5" x2="194.5" y2="275.5" stroke="#ccc" stroke-width="1.0"/>
<line x1="36.6" y1="275.5" x2="194.5" y2="275.5" stroke="#333" stroke-width="1.3" stroke-dasharray="1.7 1.13"/>
<line x1="50.5" y1="275.5" x2="50.5" y2="279.5" stroke="#858585" stroke-width="1"/>
<line x1="82.5" y1="275.5" x2="82.5" y2="279.5" stroke="#858585" stroke-width="1"/>
<line x1="115.5" y1="275.5" x2="115.5" y2="279.5" stroke="#858585" stroke-width="1"/>
<line x1="147.5" y1="275.5" x2="147.5" y2="279.5" stroke="#858585" stroke-width="1"/>
<line x1="180.5" y1="275.5" x2="180.5" y2="279.5" stroke="#858585" stroke-width="1"/>
<text x="54.70" y="287.30" font-size="8.3" text-anchor="end" fill="#111" transform="rotate(-45 54.70 287.30)">CD8<tspan font-size="5.6" dy="-3">+</tspan><tspan dy="3"> T cell</tspan></text>
<text x="85.10" y="286.60" font-size="8.3" text-anchor="end" fill="#111" transform="rotate(-45 85.10 286.60)">CD4<tspan font-size="5.6" dy="-3">+</tspan><tspan dy="3"> Tconv</tspan></text>
<text x="117.40" y="284.60" font-size="8.3" text-anchor="end" fill="#111" transform="rotate(-45 117.40 284.60)">Early Treg</text>
<text x="150.00" y="284.60" font-size="8.3" text-anchor="end" fill="#111" transform="rotate(-45 150.00 284.60)">Stable Treg</text>
<text x="182.60" y="284.60" font-size="8.3" text-anchor="end" fill="#111" transform="rotate(-45 182.60 284.60)">Ex-Treg</text>
<text x="0" y="0" font-size="8.5" text-anchor="middle" font-weight="normal" font-style="normal" fill="#111" transform="translate(50.5 204.2) scale(1 1.12)">0.0021</text>
<line x1="43.8" y1="208.5" x2="56.2" y2="208.5" stroke="#666" stroke-width="1"/>
<text x="0" y="0" font-size="8.5" text-anchor="middle" font-weight="normal" font-style="normal" fill="#111" transform="translate(83.1 204.2) scale(1 1.12)">0.2965</text>
<line x1="76.39999999999999" y1="208.5" x2="88.8" y2="208.5" stroke="#666" stroke-width="1"/>
<text x="0" y="0" font-size="8.5" text-anchor="middle" font-weight="normal" font-style="normal" fill="#111" transform="translate(115.7 204.2) scale(1 1.12)">0.0294</text>
<line x1="109.0" y1="208.5" x2="121.4" y2="208.5" stroke="#666" stroke-width="1"/>
<text x="0" y="0" font-size="8.5" text-anchor="middle" font-weight="normal" font-style="normal" fill="#111" transform="translate(148.3 204.2) scale(1 1.12)">0.9831</text>
<line x1="141.60000000000002" y1="208.5" x2="154.0" y2="208.5" stroke="#666" stroke-width="1"/>
<text x="0" y="0" font-size="8.5" text-anchor="middle" font-weight="normal" font-style="normal" fill="#111" transform="translate(180.9 204.2) scale(1 1.12)">0.2329</text>
<line x1="174.20000000000002" y1="208.5" x2="186.6" y2="208.5" stroke="#666" stroke-width="1"/>
<line x1="44.5" y1="233" x2="44.5" y2="240" stroke="#666" stroke-width="1"/>
<line x1="42.0" y1="233" x2="47.0" y2="233" stroke="#666" stroke-width="1"/>
<line x1="42.0" y1="240" x2="47.0" y2="240" stroke="#666" stroke-width="1"/>
<line x1="40.0" y1="236.5" x2="49.0" y2="236.5" stroke="#666" stroke-width="1"/>
<circle cx="44.50" cy="230.80" r="1.5" fill="#000"/>
<circle cx="43.50" cy="233.50" r="1.5" fill="#000"/>
<circle cx="45.50" cy="234.00" r="1.5" fill="#000"/>
<circle cx="41.50" cy="236.00" r="1.5" fill="#000"/>
<circle cx="47.50" cy="236.00" r="1.5" fill="#000"/>
<circle cx="44.50" cy="236.50" r="1.5" fill="#000"/>
<circle cx="43.00" cy="237.50" r="1.5" fill="#000"/>
<circle cx="46.00" cy="237.50" r="1.5" fill="#000"/>
<circle cx="44.50" cy="239.50" r="1.5" fill="#000"/>
<circle cx="43.50" cy="241.20" r="1.5" fill="#000"/>
<line x1="56.5" y1="224.5" x2="56.5" y2="232.5" stroke="#666" stroke-width="1"/>
<line x1="54.1" y1="224.5" x2="59.1" y2="224.5" stroke="#666" stroke-width="1"/>
<line x1="54.1" y1="232.5" x2="59.1" y2="232.5" stroke="#666" stroke-width="1"/>
<line x1="52.1" y1="228.5" x2="61.1" y2="228.5" stroke="#666" stroke-width="1"/>
<path d="M55.00 218.98 L56.55 221.68 L53.45 221.68 Z" fill="#fff" fill-opacity="0.0" stroke="#f02a82" stroke-width="0.7" stroke-linejoin="round"/>
<path d="M53.70 221.28 L55.25 223.98 L52.15 223.98 Z" fill="#fff" fill-opacity="0.0" stroke="#f02a82" stroke-width="0.7" stroke-linejoin="round"/>
<path d="M57.00 221.88 L58.55 224.58 L55.45 224.58 Z" fill="#fff" fill-opacity="0.0" stroke="#f02a82" stroke-width="0.7" stroke-linejoin="round"/>
<path d="M56.40 223.88 L57.95 226.58 L54.85 226.58 Z" fill="#fff" fill-opacity="0.0" stroke="#f02a82" stroke-width="0.7" stroke-linejoin="round"/>
<path d="M55.00 225.18 L56.55 227.88 L53.45 227.88 Z" fill="#fff" fill-opacity="0.0" stroke="#f02a82" stroke-width="0.7" stroke-linejoin="round"/>
<path d="M58.30 225.18 L59.85 227.88 L56.75 227.88 Z" fill="#fff" fill-opacity="0.0" stroke="#f02a82" stroke-width="0.7" stroke-linejoin="round"/>
<path d="M53.70 229.18 L55.25 231.88 L52.15 231.88 Z" fill="#fff" fill-opacity="0.0" stroke="#f02a82" stroke-width="0.7" stroke-linejoin="round"/>
<path d="M59.00 229.18 L60.55 231.88 L57.45 231.88 Z" fill="#fff" fill-opacity="0.0" stroke="#f02a82" stroke-width="0.7" stroke-linejoin="round"/>
<path d="M55.70 229.48 L57.25 232.18 L54.15 232.18 Z" fill="#fff" fill-opacity="0.0" stroke="#f02a82" stroke-width="0.7" stroke-linejoin="round"/>
<path d="M53.70 233.08 L55.25 235.78 L52.15 235.78 Z" fill="#fff" fill-opacity="0.0" stroke="#f02a82" stroke-width="0.7" stroke-linejoin="round"/>
<path d="M57.70 233.08 L59.25 235.78 L56.15 235.78 Z" fill="#fff" fill-opacity="0.0" stroke="#f02a82" stroke-width="0.7" stroke-linejoin="round"/>
<path d="M59.60 232.38 L61.15 235.08 L58.05 235.08 Z" fill="#fff" fill-opacity="0.0" stroke="#f02a82" stroke-width="0.7" stroke-linejoin="round"/>
<line x1="77.5" y1="246.5" x2="77.5" y2="253" stroke="#666" stroke-width="1"/>
<line x1="74.5" y1="246.5" x2="79.5" y2="246.5" stroke="#666" stroke-width="1"/>
<line x1="74.5" y1="253" x2="79.5" y2="253" stroke="#666" stroke-width="1"/>
<line x1="73.0" y1="250" x2="81.0" y2="250" stroke="#666" stroke-width="1"/>
<circle cx="77.50" cy="244.10" r="1.5" fill="#000"/>
<circle cx="76.50" cy="246.10" r="1.5" fill="#000"/>
<circle cx="75.90" cy="248.10" r="1.5" fill="#000"/>
<circle cx="78.20" cy="247.70" r="1.5" fill="#000"/>
<circle cx="75.20" cy="250.00" r="1.5" fill="#000"/>
<circle cx="78.50" cy="250.00" r="1.5" fill="#000"/>
<circle cx="73.90" cy="252.70" r="1.5" fill="#000"/>
<circle cx="76.90" cy="252.30" r="1.5" fill="#000"/>
<circle cx="79.80" cy="252.70" r="1.5" fill="#000"/>
<circle cx="75.20" cy="253.30" r="1.5" fill="#000"/>
<line x1="89.5" y1="243.5" x2="89.5" y2="250.5" stroke="#666" stroke-width="1"/>
<line x1="86.8" y1="243.5" x2="91.8" y2="243.5" stroke="#666" stroke-width="1"/>
<line x1="86.8" y1="250.5" x2="91.8" y2="250.5" stroke="#666" stroke-width="1"/>
<line x1="84.8" y1="247" x2="93.8" y2="247" stroke="#666" stroke-width="1"/>
<path d="M89.30 236.28 L90.85 238.98 L87.75 238.98 Z" fill="#fff" fill-opacity="0.0" stroke="#f02a82" stroke-width="0.7" stroke-linejoin="round"/>
<path d="M87.40 240.48 L88.95 243.18 L85.85 243.18 Z" fill="#fff" fill-opacity="0.0" stroke="#f02a82" stroke-width="0.7" stroke-linejoin="round"/>
<path d="M86.40 242.48 L87.95 245.18 L84.85 245.18 Z" fill="#fff" fill-opacity="0.0" stroke="#f02a82" stroke-width="0.7" stroke-linejoin="round"/>
<path d="M90.30 242.18 L91.85 244.88 L88.75 244.88 Z" fill="#fff" fill-opacity="0.0" stroke="#f02a82" stroke-width="0.7" stroke-linejoin="round"/>
<path d="M89.00 244.78 L90.55 247.48 L87.45 247.48 Z" fill="#fff" fill-opacity="0.0" stroke="#f02a82" stroke-width="0.7" stroke-linejoin="round"/>
<path d="M87.00 246.08 L88.55 248.78 L85.45 248.78 Z" fill="#fff" fill-opacity="0.0" stroke="#f02a82" stroke-width="0.7" stroke-linejoin="round"/>
<path d="M91.30 246.08 L92.85 248.78 L89.75 248.78 Z" fill="#fff" fill-opacity="0.0" stroke="#f02a82" stroke-width="0.7" stroke-linejoin="round"/>
<path d="M85.70 248.08 L87.25 250.78 L84.15 250.78 Z" fill="#fff" fill-opacity="0.0" stroke="#f02a82" stroke-width="0.7" stroke-linejoin="round"/>
<path d="M89.70 248.38 L91.25 251.08 L88.15 251.08 Z" fill="#fff" fill-opacity="0.0" stroke="#f02a82" stroke-width="0.7" stroke-linejoin="round"/>
<path d="M92.30 248.08 L93.85 250.78 L90.75 250.78 Z" fill="#fff" fill-opacity="0.0" stroke="#f02a82" stroke-width="0.7" stroke-linejoin="round"/>
<path d="M87.70 251.08 L89.25 253.78 L86.15 253.78 Z" fill="#fff" fill-opacity="0.0" stroke="#f02a82" stroke-width="0.7" stroke-linejoin="round"/>
<circle cx="109.20" cy="242.40" r="1.5" fill="#000"/>
<circle cx="108.90" cy="244.40" r="1.5" fill="#000"/>
<circle cx="109.50" cy="245.40" r="1.5" fill="#000"/>
<circle cx="106.60" cy="247.00" r="1.5" fill="#000"/>
<circle cx="108.50" cy="247.70" r="1.5" fill="#000"/>
<circle cx="112.10" cy="247.70" r="1.5" fill="#000"/>
<circle cx="107.20" cy="249.00" r="1.5" fill="#000"/>
<circle cx="110.50" cy="249.00" r="1.5" fill="#000"/>
<circle cx="109.80" cy="250.00" r="1.5" fill="#000"/>
<circle cx="108.00" cy="248.50" r="1.5" fill="#000"/>
<line x1="121.5" y1="239" x2="121.5" y2="246.5" stroke="#666" stroke-width="1"/>
<line x1="119.0" y1="239" x2="124.0" y2="239" stroke="#666" stroke-width="1"/>
<line x1="119.0" y1="246.5" x2="124.0" y2="246.5" stroke="#666" stroke-width="1"/>
<line x1="117.0" y1="242.8" x2="126.0" y2="242.8" stroke="#666" stroke-width="1"/>
<path d="M121.30 233.58 L122.85 236.28 L119.75 236.28 Z" fill="#fff" fill-opacity="0.0" stroke="#f02a82" stroke-width="0.7" stroke-linejoin="round"/>
<path d="M121.30 235.58 L122.85 238.28 L119.75 238.28 Z" fill="#fff" fill-opacity="0.0" stroke="#f02a82" stroke-width="0.7" stroke-linejoin="round"/>
<path d="M119.70 238.48 L121.25 241.18 L118.15 241.18 Z" fill="#fff" fill-opacity="0.0" stroke="#f02a82" stroke-width="0.7" stroke-linejoin="round"/>
<path d="M122.70 238.48 L124.25 241.18 L121.15 241.18 Z" fill="#fff" fill-opacity="0.0" stroke="#f02a82" stroke-width="0.7" stroke-linejoin="round"/>
<path d="M119.70 240.48 L121.25 243.18 L118.15 243.18 Z" fill="#fff" fill-opacity="0.0" stroke="#f02a82" stroke-width="0.7" stroke-linejoin="round"/>
<path d="M123.30 240.48 L124.85 243.18 L121.75 243.18 Z" fill="#fff" fill-opacity="0.0" stroke="#f02a82" stroke-width="0.7" stroke-linejoin="round"/>
<path d="M118.40 242.48 L119.95 245.18 L116.85 245.18 Z" fill="#fff" fill-opacity="0.0" stroke="#f02a82" stroke-width="0.7" stroke-linejoin="round"/>
<path d="M124.60 242.48 L126.15 245.18 L123.05 245.18 Z" fill="#fff" fill-opacity="0.0" stroke="#f02a82" stroke-width="0.7" stroke-linejoin="round"/>
<path d="M122.30 245.08 L123.85 247.78 L120.75 247.78 Z" fill="#fff" fill-opacity="0.0" stroke="#f02a82" stroke-width="0.7" stroke-linejoin="round"/>
<path d="M120.40 248.08 L121.95 250.78 L118.85 250.78 Z" fill="#fff" fill-opacity="0.0" stroke="#f02a82" stroke-width="0.7" stroke-linejoin="round"/>
<path d="M122.70 248.08 L124.25 250.78 L121.15 250.78 Z" fill="#fff" fill-opacity="0.0" stroke="#f02a82" stroke-width="0.7" stroke-linejoin="round"/>
<circle cx="142.80" cy="247.10" r="1.5" fill="#000"/>
<circle cx="139.20" cy="250.10" r="1.5" fill="#000"/>
<circle cx="141.50" cy="249.80" r="1.5" fill="#000"/>
<circle cx="144.80" cy="251.40" r="1.5" fill="#000"/>
<circle cx="139.20" cy="254.00" r="1.5" fill="#000"/>
<circle cx="142.20" cy="254.00" r="1.5" fill="#000"/>
<circle cx="144.50" cy="253.40" r="1.5" fill="#000"/>
<circle cx="143.80" cy="256.00" r="1.5" fill="#000"/>
<circle cx="139.20" cy="258.00" r="1.5" fill="#000"/>
<circle cx="140.90" cy="257.30" r="1.5" fill="#000"/>
<line x1="154.5" y1="249" x2="154.5" y2="256" stroke="#666" stroke-width="1"/>
<line x1="151.5" y1="249" x2="156.5" y2="249" stroke="#666" stroke-width="1"/>
<line x1="151.5" y1="256" x2="156.5" y2="256" stroke="#666" stroke-width="1"/>
<line x1="149.5" y1="252.6" x2="158.5" y2="252.6" stroke="#666" stroke-width="1"/>
<path d="M154.00 244.18 L155.55 246.88 L152.45 246.88 Z" fill="#fff" fill-opacity="0.0" stroke="#f02a82" stroke-width="0.7" stroke-linejoin="round"/>
<path d="M153.40 246.48 L154.95 249.18 L151.85 249.18 Z" fill="#fff" fill-opacity="0.0" stroke="#f02a82" stroke-width="0.7" stroke-linejoin="round"/>
<path d="M154.70 246.48 L156.25 249.18 L153.15 249.18 Z" fill="#fff" fill-opacity="0.0" stroke="#f02a82" stroke-width="0.7" stroke-linejoin="round"/>
<path d="M152.40 249.18 L153.95 251.88 L150.85 251.88 Z" fill="#fff" fill-opacity="0.0" stroke="#f02a82" stroke-width="0.7" stroke-linejoin="round"/>
<path d="M155.70 249.18 L157.25 251.88 L154.15 251.88 Z" fill="#fff" fill-opacity="0.0" stroke="#f02a82" stroke-width="0.7" stroke-linejoin="round"/>
<path d="M150.70 251.08 L152.25 253.78 L149.15 253.78 Z" fill="#fff" fill-opacity="0.0" stroke="#f02a82" stroke-width="0.7" stroke-linejoin="round"/>
<path d="M157.30 251.08 L158.85 253.78 L155.75 253.78 Z" fill="#fff" fill-opacity="0.0" stroke="#f02a82" stroke-width="0.7" stroke-linejoin="round"/>
<path d="M154.00 253.08 L155.55 255.78 L152.45 255.78 Z" fill="#fff" fill-opacity="0.0" stroke="#f02a82" stroke-width="0.7" stroke-linejoin="round"/>
<path d="M152.70 255.08 L154.25 257.78 L151.15 257.78 Z" fill="#fff" fill-opacity="0.0" stroke="#f02a82" stroke-width="0.7" stroke-linejoin="round"/>
<path d="M152.00 256.68 L153.55 259.38 L150.45 259.38 Z" fill="#fff" fill-opacity="0.0" stroke="#f02a82" stroke-width="0.7" stroke-linejoin="round"/>
<circle cx="174.10" cy="240.00" r="1.5" fill="#000"/>
<circle cx="175.80" cy="241.10" r="1.5" fill="#000"/>
<circle cx="172.90" cy="242.30" r="1.5" fill="#000"/>
<circle cx="171.80" cy="244.60" r="1.5" fill="#000"/>
<circle cx="177.00" cy="244.60" r="1.5" fill="#000"/>
<circle cx="174.10" cy="245.80" r="1.5" fill="#000"/>
<circle cx="174.60" cy="246.90" r="1.5" fill="#000"/>
<circle cx="173.50" cy="243.50" r="1.5" fill="#000"/>
<circle cx="176.00" cy="243.00" r="1.5" fill="#000"/>
<circle cx="174.10" cy="251.80" r="1.5" fill="#000"/>
<line x1="186.5" y1="239" x2="186.5" y2="245.5" stroke="#666" stroke-width="1"/>
<line x1="183.9" y1="239" x2="188.9" y2="239" stroke="#666" stroke-width="1"/>
<line x1="183.9" y1="245.5" x2="188.9" y2="245.5" stroke="#666" stroke-width="1"/>
<line x1="181.9" y1="242.3" x2="190.9" y2="242.3" stroke="#666" stroke-width="1"/>
<path d="M186.40 232.58 L187.95 235.28 L184.85 235.28 Z" fill="#fff" fill-opacity="0.0" stroke="#f02a82" stroke-width="0.7" stroke-linejoin="round"/>
<path d="M186.40 234.88 L187.95 237.58 L184.85 237.58 Z" fill="#fff" fill-opacity="0.0" stroke="#f02a82" stroke-width="0.7" stroke-linejoin="round"/>
<path d="M185.00 237.18 L186.55 239.88 L183.45 239.88 Z" fill="#fff" fill-opacity="0.0" stroke="#f02a82" stroke-width="0.7" stroke-linejoin="round"/>
<path d="M187.90 237.18 L189.45 239.88 L186.35 239.88 Z" fill="#fff" fill-opacity="0.0" stroke="#f02a82" stroke-width="0.7" stroke-linejoin="round"/>
<path d="M183.90 240.68 L185.45 243.38 L182.35 243.38 Z" fill="#fff" fill-opacity="0.0" stroke="#f02a82" stroke-width="0.7" stroke-linejoin="round"/>
<path d="M189.10 240.68 L190.65 243.38 L187.55 243.38 Z" fill="#fff" fill-opacity="0.0" stroke="#f02a82" stroke-width="0.7" stroke-linejoin="round"/>
<path d="M186.40 240.68 L187.95 243.38 L184.85 243.38 Z" fill="#fff" fill-opacity="0.0" stroke="#f02a82" stroke-width="0.7" stroke-linejoin="round"/>
<path d="M185.00 242.38 L186.55 245.08 L183.45 245.08 Z" fill="#fff" fill-opacity="0.0" stroke="#f02a82" stroke-width="0.7" stroke-linejoin="round"/>
<path d="M187.90 242.38 L189.45 245.08 L186.35 245.08 Z" fill="#fff" fill-opacity="0.0" stroke="#f02a82" stroke-width="0.7" stroke-linejoin="round"/>
<path d="M186.40 247.58 L187.95 250.28 L184.85 250.28 Z" fill="#fff" fill-opacity="0.0" stroke="#f02a82" stroke-width="0.7" stroke-linejoin="round"/>
<text x="0" y="0" font-size="15.5" text-anchor="start" font-weight="bold" font-style="normal" fill="#000" transform="translate(234.3 158.0) scale(1 1.1)">D</text>
<text x="329.6" y="159.4" font-size="10.1" text-anchor="start" font-weight="normal" font-style="normal" fill="#111">Pancreas</text>
<line x1="271.5" y1="170" x2="271.5" y2="275.5" stroke="#858585" stroke-width="1"/>
<line x1="267.2" y1="275.5" x2="271.2" y2="275.5" stroke="#858585" stroke-width="1"/>
<text x="0" y="0" font-size="8.0" text-anchor="end" font-weight="normal" font-style="normal" fill="#111" transform="translate(265.59999999999997 278.812) scale(1 1.15)">0</text>
<line x1="267.2" y1="254.4" x2="271.2" y2="254.4" stroke="#858585" stroke-width="1"/>
<text x="0" y="0" font-size="8.0" text-anchor="end" font-weight="normal" font-style="normal" fill="#111" transform="translate(265.59999999999997 257.712) scale(1 1.15)">1,000</text>
<line x1="267.2" y1="233.3" x2="271.2" y2="233.3" stroke="#858585" stroke-width="1"/>
<text x="0" y="0" font-size="8.0" text-anchor="end" font-weight="normal" font-style="normal" fill="#111" transform="translate(265.59999999999997 236.61200000000002) scale(1 1.15)">2,000</text>
<line x1="267.2" y1="212.2" x2="271.2" y2="212.2" stroke="#858585" stroke-width="1"/>
<text x="0" y="0" font-size="8.0" text-anchor="end" font-weight="normal" font-style="normal" fill="#111" transform="translate(265.59999999999997 215.512) scale(1 1.15)">3,000</text>
<line x1="267.2" y1="191.1" x2="271.2" y2="191.1" stroke="#858585" stroke-width="1"/>
<text x="0" y="0" font-size="8.0" text-anchor="end" font-weight="normal" font-style="normal" fill="#111" transform="translate(265.59999999999997 194.412) scale(1 1.15)">4,000</text>
<line x1="267.2" y1="170.0" x2="271.2" y2="170.0" stroke="#858585" stroke-width="1"/>
<text x="0" y="0" font-size="8.0" text-anchor="end" font-weight="normal" font-style="normal" fill="#111" transform="translate(265.59999999999997 173.312) scale(1 1.15)">5,000</text>
<text x="241.5" y="222.5" font-size="8.9" text-anchor="middle" font-weight="normal" font-style="normal" fill="#111" transform="rotate(-90 241.5 222.5)">TIGIT (gMFI)</text>
<line x1="271.2" y1="275.5" x2="429.5" y2="275.5" stroke="#ccc" stroke-width="1.0"/>
<line x1="271.2" y1="275.5" x2="429.5" y2="275.5" stroke="#333" stroke-width="1.3" stroke-dasharray="1.7 1.13"/>
<line x1="285.5" y1="275.5" x2="285.5" y2="279.5" stroke="#858585" stroke-width="1"/>
<line x1="318.5" y1="275.5" x2="318.5" y2="279.5" stroke="#858585" stroke-width="1"/>
<line x1="350.5" y1="275.5" x2="350.5" y2="279.5" stroke="#858585" stroke-width="1"/>
<line x1="383.5" y1="275.5" x2="383.5" y2="279.5" stroke="#858585" stroke-width="1"/>
<line x1="415.5" y1="275.5" x2="415.5" y2="279.5" stroke="#858585" stroke-width="1"/>
<text x="290.20" y="287.30" font-size="8.3" text-anchor="end" fill="#111" transform="rotate(-45 290.20 287.30)">CD8<tspan font-size="5.6" dy="-3">+</tspan><tspan dy="3"> T cell</tspan></text>
<text x="320.50" y="286.60" font-size="8.3" text-anchor="end" fill="#111" transform="rotate(-45 320.50 286.60)">CD4<tspan font-size="5.6" dy="-3">+</tspan><tspan dy="3"> Tconv</tspan></text>
<text x="352.70" y="284.60" font-size="8.3" text-anchor="end" fill="#111" transform="rotate(-45 352.70 284.60)">Early Treg</text>
<text x="385.20" y="284.60" font-size="8.3" text-anchor="end" fill="#111" transform="rotate(-45 385.20 284.60)">Stable Treg</text>
<text x="417.70" y="284.60" font-size="8.3" text-anchor="end" fill="#111" transform="rotate(-45 417.70 284.60)">Ex-Treg</text>
<text x="0" y="0" font-size="8.6" text-anchor="middle" font-weight="normal" font-style="normal" fill="#111" transform="translate(285.6 178.5) scale(1 1.12)">0.0023</text>
<line x1="279.5" y1="183.5" x2="291.70000000000005" y2="183.5" stroke="#666" stroke-width="1"/>
<text x="0" y="0" font-size="8.6" text-anchor="middle" font-weight="normal" font-style="normal" fill="#111" transform="translate(318.6 178.5) scale(1 1.12)">0.3087</text>
<line x1="312.5" y1="183.5" x2="324.70000000000005" y2="183.5" stroke="#666" stroke-width="1"/>
<text x="0" y="0" font-size="8.6" text-anchor="middle" font-weight="normal" font-style="normal" fill="#111" transform="translate(351.3 178.5) scale(1 1.12)">0.5640</text>
<line x1="345.2" y1="183.5" x2="357.40000000000003" y2="183.5" stroke="#666" stroke-width="1"/>
<text x="0" y="0" font-size="8.6" text-anchor="middle" font-weight="normal" font-style="normal" fill="#111" transform="translate(383.8 178.5) scale(1 1.12)">0.5438</text>
<line x1="377.7" y1="183.5" x2="389.90000000000003" y2="183.5" stroke="#666" stroke-width="1"/>
<text x="0" y="0" font-size="8.6" text-anchor="middle" font-weight="normal" font-style="normal" fill="#111" transform="translate(416.2 178.5) scale(1 1.12)">0.7178</text>
<line x1="410.09999999999997" y1="183.5" x2="422.3" y2="183.5" stroke="#666" stroke-width="1"/>
<line x1="279.5" y1="224" x2="279.5" y2="232" stroke="#666" stroke-width="1"/>
<line x1="277.3" y1="224" x2="282.3" y2="224" stroke="#666" stroke-width="1"/>
<line x1="277.3" y1="232" x2="282.3" y2="232" stroke="#666" stroke-width="1"/>
<line x1="275.3" y1="228" x2="284.3" y2="228" stroke="#666" stroke-width="1"/>
<circle cx="277.20" cy="223.40" r="1.5" fill="#000"/>
<circle cx="280.80" cy="222.40" r="1.5" fill="#000"/>
<circle cx="282.40" cy="225.40" r="1.5" fill="#000"/>
<circle cx="276.90" cy="227.40" r="1.5" fill="#000"/>
<circle cx="280.10" cy="226.40" r="1.5" fill="#000"/>
<circle cx="282.10" cy="227.00" r="1.5" fill="#000"/>
<circle cx="280.10" cy="231.30" r="1.5" fill="#000"/>
<circle cx="282.40" cy="232.30" r="1.5" fill="#000"/>
<circle cx="277.20" cy="234.30" r="1.5" fill="#000"/>
<circle cx="279.50" cy="233.60" r="1.5" fill="#000"/>
<line x1="291.5" y1="218.5" x2="291.5" y2="223.8" stroke="#666" stroke-width="1"/>
<line x1="289.3" y1="218.5" x2="294.3" y2="218.5" stroke="#666" stroke-width="1"/>
<line x1="289.3" y1="223.8" x2="294.3" y2="223.8" stroke="#666" stroke-width="1"/>
<line x1="287.3" y1="221.1" x2="296.3" y2="221.1" stroke="#666" stroke-width="1"/>
<path d="M291.60 215.28 L293.15 217.98 L290.05 217.98 Z" fill="#fff" fill-opacity="0.0" stroke="#f02a82" stroke-width="0.7" stroke-linejoin="round"/>
<path d="M290.30 217.18 L291.85 219.88 L288.75 219.88 Z" fill="#fff" fill-opacity="0.0" stroke="#f02a82" stroke-width="0.7" stroke-linejoin="round"/>
<path d="M293.00 216.88 L294.55 219.58 L291.45 219.58 Z" fill="#fff" fill-opacity="0.0" stroke="#f02a82" stroke-width="0.7" stroke-linejoin="round"/>
<path d="M289.30 219.48 L290.85 222.18 L287.75 222.18 Z" fill="#fff" fill-opacity="0.0" stroke="#f02a82" stroke-width="0.7" stroke-linejoin="round"/>
<path d="M292.00 219.18 L293.55 221.88 L290.45 221.88 Z" fill="#fff" fill-opacity="0.0" stroke="#f02a82" stroke-width="0.7" stroke-linejoin="round"/>
<path d="M294.30 219.88 L295.85 222.58 L292.75 222.58 Z" fill="#fff" fill-opacity="0.0" stroke="#f02a82" stroke-width="0.7" stroke-linejoin="round"/>
<path d="M289.00 222.78 L290.55 225.48 L287.45 225.48 Z" fill="#fff" fill-opacity="0.0" stroke="#f02a82" stroke-width="0.7" stroke-linejoin="round"/>
<path d="M291.60 222.18 L293.15 224.88 L290.05 224.88 Z" fill="#fff" fill-opacity="0.0" stroke="#f02a82" stroke-width="0.7" stroke-linejoin="round"/>
<path d="M294.30 223.48 L295.85 226.18 L292.75 226.18 Z" fill="#fff" fill-opacity="0.0" stroke="#f02a82" stroke-width="0.7" stroke-linejoin="round"/>
<path d="M290.70 221.18 L292.25 223.88 L289.15 223.88 Z" fill="#fff" fill-opacity="0.0" stroke="#f02a82" stroke-width="0.7" stroke-linejoin="round"/>
<line x1="312.5" y1="235.5" x2="312.5" y2="242" stroke="#666" stroke-width="1"/>
<line x1="310.3" y1="235.5" x2="315.3" y2="235.5" stroke="#666" stroke-width="1"/>
<line x1="310.3" y1="242" x2="315.3" y2="242" stroke="#666" stroke-width="1"/>
<line x1="308.3" y1="238.8" x2="317.3" y2="238.8" stroke="#666" stroke-width="1"/>
<circle cx="313.50" cy="232.60" r="1.5" fill="#000"/>
<circle cx="312.20" cy="234.50" r="1.5" fill="#000"/>
<circle cx="309.60" cy="238.10" r="1.5" fill="#000"/>
<circle cx="312.80" cy="238.10" r="1.5" fill="#000"/>
<circle cx="315.10" cy="238.80" r="1.5" fill="#000"/>
<circle cx="311.20" cy="240.40" r="1.5" fill="#000"/>
<circle cx="313.50" cy="241.10" r="1.5" fill="#000"/>
<circle cx="313.50" cy="243.10" r="1.5" fill="#000"/>
<circle cx="310.60" cy="244.40" r="1.5" fill="#000"/>
<circle cx="311.50" cy="242.50" r="1.5" fill="#000"/>
<line x1="324.5" y1="234" x2="324.5" y2="239" stroke="#666" stroke-width="1"/>
<line x1="322.3" y1="234" x2="327.3" y2="234" stroke="#666" stroke-width="1"/>
<line x1="322.3" y1="239" x2="327.3" y2="239" stroke="#666" stroke-width="1"/>
<line x1="320.3" y1="236.5" x2="329.3" y2="236.5" stroke="#666" stroke-width="1"/>
<path d="M324.30 230.28 L325.85 232.98 L322.75 232.98 Z" fill="#fff" fill-opacity="0.0" stroke="#f02a82" stroke-width="0.7" stroke-linejoin="round"/>
<path d="M323.40 232.28 L324.95 234.98 L321.85 234.98 Z" fill="#fff" fill-opacity="0.0" stroke="#f02a82" stroke-width="0.7" stroke-linejoin="round"/>
<path d="M325.30 232.58 L326.85 235.28 L323.75 235.28 Z" fill="#fff" fill-opacity="0.0" stroke="#f02a82" stroke-width="0.7" stroke-linejoin="round"/>
<path d="M322.00 234.58 L323.55 237.28 L320.45 237.28 Z" fill="#fff" fill-opacity="0.0" stroke="#f02a82" stroke-width="0.7" stroke-linejoin="round"/>
<path d="M324.70 234.58 L326.25 237.28 L323.15 237.28 Z" fill="#fff" fill-opacity="0.0" stroke="#f02a82" stroke-width="0.7" stroke-linejoin="round"/>
<path d="M327.30 234.88 L328.85 237.58 L325.75 237.58 Z" fill="#fff" fill-opacity="0.0" stroke="#f02a82" stroke-width="0.7" stroke-linejoin="round"/>
<path d="M322.70 236.88 L324.25 239.58 L321.15 239.58 Z" fill="#fff" fill-opacity="0.0" stroke="#f02a82" stroke-width="0.7" stroke-linejoin="round"/>
<path d="M328.00 236.88 L329.55 239.58 L326.45 239.58 Z" fill="#fff" fill-opacity="0.0" stroke="#f02a82" stroke-width="0.7" stroke-linejoin="round"/>
<path d="M324.00 239.48 L325.55 242.18 L322.45 242.18 Z" fill="#fff" fill-opacity="0.0" stroke="#f02a82" stroke-width="0.7" stroke-linejoin="round"/>
<path d="M325.70 239.48 L327.25 242.18 L324.15 242.18 Z" fill="#fff" fill-opacity="0.0" stroke="#f02a82" stroke-width="0.7" stroke-linejoin="round"/>
<line x1="344.5" y1="221" x2="344.5" y2="242" stroke="#666" stroke-width="1"/>
<line x1="342.4" y1="221" x2="347.4" y2="221" stroke="#666" stroke-width="1"/>
<line x1="342.4" y1="242" x2="347.4" y2="242" stroke="#666" stroke-width="1"/>
<line x1="340.4" y1="231.7" x2="349.4" y2="231.7" stroke="#666" stroke-width="1"/>
<circle cx="347.20" cy="216.70" r="1.5" fill="#000"/>
<circle cx="344.90" cy="219.00" r="1.5" fill="#000"/>
<circle cx="343.20" cy="224.20" r="1.5" fill="#000"/>
<circle cx="347.20" cy="226.00" r="1.5" fill="#000"/>
<circle cx="342.00" cy="228.30" r="1.5" fill="#000"/>
<circle cx="346.10" cy="227.70" r="1.5" fill="#000"/>
<circle cx="344.90" cy="232.90" r="1.5" fill="#000"/>
<circle cx="346.70" cy="236.90" r="1.5" fill="#000"/>
<circle cx="344.30" cy="238.60" r="1.5" fill="#000"/>
<circle cx="345.50" cy="245.00" r="1.5" fill="#000"/>
<circle cx="343.20" cy="246.70" r="1.5" fill="#000"/>
<line x1="357.5" y1="218.5" x2="357.5" y2="232.3" stroke="#666" stroke-width="1"/>
<line x1="354.5" y1="218.5" x2="359.5" y2="218.5" stroke="#666" stroke-width="1"/>
<line x1="354.5" y1="232.3" x2="359.5" y2="232.3" stroke="#666" stroke-width="1"/>
<line x1="352.5" y1="225.4" x2="361.5" y2="225.4" stroke="#666" stroke-width="1"/>
<path d="M357.00 209.38 L358.55 212.08 L355.45 212.08 Z" fill="#fff" fill-opacity="0.0" stroke="#f02a82" stroke-width="0.7" stroke-linejoin="round"/>
<path d="M357.00 212.78 L358.55 215.48 L355.45 215.48 Z" fill="#fff" fill-opacity="0.0" stroke="#f02a82" stroke-width="0.7" stroke-linejoin="round"/>
<path d="M354.50 214.38 L356.05 217.08 L352.95 217.08 Z" fill="#fff" fill-opacity="0.0" stroke="#f02a82" stroke-width="0.7" stroke-linejoin="round"/>
<path d="M357.00 216.88 L358.55 219.58 L355.45 219.58 Z" fill="#fff" fill-opacity="0.0" stroke="#f02a82" stroke-width="0.7" stroke-linejoin="round"/>
<path d="M357.00 221.38 L358.55 224.08 L355.45 224.08 Z" fill="#fff" fill-opacity="0.0" stroke="#f02a82" stroke-width="0.7" stroke-linejoin="round"/>
<path d="M354.10 227.78 L355.65 230.48 L352.55 230.48 Z" fill="#fff" fill-opacity="0.0" stroke="#f02a82" stroke-width="0.7" stroke-linejoin="round"/>
<path d="M359.90 227.78 L361.45 230.48 L358.35 230.48 Z" fill="#fff" fill-opacity="0.0" stroke="#f02a82" stroke-width="0.7" stroke-linejoin="round"/>
<path d="M357.00 229.48 L358.55 232.18 L355.45 232.18 Z" fill="#fff" fill-opacity="0.0" stroke="#f02a82" stroke-width="0.7" stroke-linejoin="round"/>
<path d="M357.00 232.98 L358.55 235.68 L355.45 235.68 Z" fill="#fff" fill-opacity="0.0" stroke="#f02a82" stroke-width="0.7" stroke-linejoin="round"/>
<path d="M357.00 236.48 L358.55 239.18 L355.45 239.18 Z" fill="#fff" fill-opacity="0.0" stroke="#f02a82" stroke-width="0.7" stroke-linejoin="round"/>
<line x1="377.5" y1="238.5" x2="377.5" y2="246.5" stroke="#666" stroke-width="1"/>
<line x1="374.7" y1="238.5" x2="379.7" y2="238.5" stroke="#666" stroke-width="1"/>
<line x1="374.7" y1="246.5" x2="379.7" y2="246.5" stroke="#666" stroke-width="1"/>
<line x1="372.7" y1="242.5" x2="381.7" y2="242.5" stroke="#666" stroke-width="1"/>
<circle cx="379.80" cy="235.90" r="1.5" fill="#000"/>
<circle cx="374.60" cy="238.20" r="1.5" fill="#000"/>
<circle cx="377.20" cy="237.80" r="1.5" fill="#000"/>
<circle cx="379.80" cy="240.10" r="1.5" fill="#000"/>
<circle cx="374.60" cy="243.40" r="1.5" fill="#000"/>
<circle cx="377.20" cy="243.10" r="1.5" fill="#000"/>
<circle cx="379.80" cy="244.10" r="1.5" fill="#000"/>
<circle cx="379.80" cy="247.70" r="1.5" fill="#000"/>
<circle cx="377.20" cy="247.00" r="1.5" fill="#000"/>
<circle cx="374.60" cy="249.30" r="1.5" fill="#000"/>
<line x1="389.5" y1="238" x2="389.5" y2="242.5" stroke="#666" stroke-width="1"/>
<line x1="386.7" y1="238" x2="391.7" y2="238" stroke="#666" stroke-width="1"/>
<line x1="386.7" y1="242.5" x2="391.7" y2="242.5" stroke="#666" stroke-width="1"/>
<line x1="384.7" y1="240.1" x2="393.7" y2="240.1" stroke="#666" stroke-width="1"/>
<path d="M389.00 234.88 L390.55 237.58 L387.45 237.58 Z" fill="#fff" fill-opacity="0.0" stroke="#f02a82" stroke-width="0.7" stroke-linejoin="round"/>
<path d="M387.70 236.18 L389.25 238.88 L386.15 238.88 Z" fill="#fff" fill-opacity="0.0" stroke="#f02a82" stroke-width="0.7" stroke-linejoin="round"/>
<path d="M390.70 236.18 L392.25 238.88 L389.15 238.88 Z" fill="#fff" fill-opacity="0.0" stroke="#f02a82" stroke-width="0.7" stroke-linejoin="round"/>
<path d="M389.00 238.48 L390.55 241.18 L387.45 241.18 Z" fill="#fff" fill-opacity="0.0" stroke="#f02a82" stroke-width="0.7" stroke-linejoin="round"/>
<path d="M387.00 240.18 L388.55 242.88 L385.45 242.88 Z" fill="#fff" fill-opacity="0.0" stroke="#f02a82" stroke-width="0.7" stroke-linejoin="round"/>
<path d="M391.00 239.48 L392.55 242.18 L389.45 242.18 Z" fill="#fff" fill-opacity="0.0" stroke="#f02a82" stroke-width="0.7" stroke-linejoin="round"/>
<path d="M386.00 241.48 L387.55 244.18 L384.45 244.18 Z" fill="#fff" fill-opacity="0.0" stroke="#f02a82" stroke-width="0.7" stroke-linejoin="round"/>
<path d="M392.30 241.18 L393.85 243.88 L390.75 243.88 Z" fill="#fff" fill-opacity="0.0" stroke="#f02a82" stroke-width="0.7" stroke-linejoin="round"/>
<path d="M389.00 241.78 L390.55 244.48 L387.45 244.48 Z" fill="#fff" fill-opacity="0.0" stroke="#f02a82" stroke-width="0.7" stroke-linejoin="round"/>
<path d="M390.30 242.18 L391.85 244.88 L388.75 244.88 Z" fill="#fff" fill-opacity="0.0" stroke="#f02a82" stroke-width="0.7" stroke-linejoin="round"/>
<line x1="409.5" y1="224" x2="409.5" y2="238.5" stroke="#666" stroke-width="1"/>
<line x1="406.7" y1="224" x2="411.7" y2="224" stroke="#666" stroke-width="1"/>
<line x1="406.7" y1="238.5" x2="411.7" y2="238.5" stroke="#666" stroke-width="1"/>
<line x1="404.7" y1="231.3" x2="413.7" y2="231.3" stroke="#666" stroke-width="1"/>
<circle cx="412.40" cy="220.80" r="1.5" fill="#000"/>
<circle cx="409.20" cy="223.50" r="1.5" fill="#000"/>
<circle cx="406.50" cy="225.40" r="1.5" fill="#000"/>
<circle cx="411.10" cy="226.70" r="1.5" fill="#000"/>
<circle cx="407.20" cy="228.70" r="1.5" fill="#000"/>
<circle cx="411.10" cy="228.70" r="1.5" fill="#000"/>
<circle cx="408.50" cy="236.60" r="1.5" fill="#000"/>
<circle cx="411.10" cy="237.20" r="1.5" fill="#000"/>
<circle cx="408.50" cy="241.20" r="1.5" fill="#000"/>
<circle cx="409.80" cy="242.50" r="1.5" fill="#000"/>
<line x1="421.5" y1="217.3" x2="421.5" y2="233.3" stroke="#666" stroke-width="1"/>
<line x1="419.1" y1="217.3" x2="424.1" y2="217.3" stroke="#666" stroke-width="1"/>
<line x1="419.1" y1="233.3" x2="424.1" y2="233.3" stroke="#666" stroke-width="1"/>
<line x1="417.1" y1="225.4" x2="426.1" y2="225.4" stroke="#666" stroke-width="1"/>
<path d="M421.60 194.28 L423.15 196.98 L420.05 196.98 Z" fill="#fff" fill-opacity="0.0" stroke="#f02a82" stroke-width="0.7" stroke-linejoin="round"/>
<path d="M420.30 219.88 L421.85 222.58 L418.75 222.58 Z" fill="#fff" fill-opacity="0.0" stroke="#f02a82" stroke-width="0.7" stroke-linejoin="round"/>
<path d="M424.20 221.88 L425.75 224.58 L422.65 224.58 Z" fill="#fff" fill-opacity="0.0" stroke="#f02a82" stroke-width="0.7" stroke-linejoin="round"/>
<path d="M421.60 222.48 L423.15 225.18 L420.05 225.18 Z" fill="#fff" fill-opacity="0.0" stroke="#f02a82" stroke-width="0.7" stroke-linejoin="round"/>
<path d="M419.70 228.38 L421.25 231.08 L418.15 231.08 Z" fill="#fff" fill-opacity="0.0" stroke="#f02a82" stroke-width="0.7" stroke-linejoin="round"/>
<path d="M419.70 233.68 L421.25 236.38 L418.15 236.38 Z" fill="#fff" fill-opacity="0.0" stroke="#f02a82" stroke-width="0.7" stroke-linejoin="round"/>
<path d="M423.60 232.98 L425.15 235.68 L422.05 235.68 Z" fill="#fff" fill-opacity="0.0" stroke="#f02a82" stroke-width="0.7" stroke-linejoin="round"/>
<path d="M425.60 233.68 L427.15 236.38 L424.05 236.38 Z" fill="#fff" fill-opacity="0.0" stroke="#f02a82" stroke-width="0.7" stroke-linejoin="round"/>
<path d="M418.30 234.28 L419.85 236.98 L416.75 236.98 Z" fill="#fff" fill-opacity="0.0" stroke="#f02a82" stroke-width="0.7" stroke-linejoin="round"/>
<path d="M421.60 226.38 L423.15 229.08 L420.05 229.08 Z" fill="#fff" fill-opacity="0.0" stroke="#f02a82" stroke-width="0.7" stroke-linejoin="round"/>
<circle cx="448.00" cy="177.00" r="1.7" fill="#000"/>
<text x="455.2" y="179.2" font-size="9.2" text-anchor="start" font-weight="normal" font-style="normal" fill="#111">WT</text>
<path d="M448.00 185.88 L449.55 188.58 L446.45 188.58 Z" fill="#fff" fill-opacity="0.0" stroke="#f02a82" stroke-width="0.7" stroke-linejoin="round"/>
<text x="455.2" y="189.8" font-size="9.2" text-anchor="start" font-weight="normal" font-style="normal" fill="#111">gKO</text>
<text x="0" y="0" font-size="15.5" text-anchor="start" font-weight="bold" font-style="normal" fill="#000" transform="translate(0.3 333.9) scale(1 1.1)">E</text>
<text x="0" y="0" font-size="9.6" text-anchor="middle" font-weight="normal" font-style="normal" fill="#111" transform="translate(67.2 335.7) scale(1 1.1)">E/M CD4<tspan font-size="5.5" dy="-3.8">+</tspan><tspan dy="3.8"> Tconv</tspan></text>
<rect x="15.5" y="340" width="104.0" height="103" fill="#fff" stroke="#aaa" stroke-width="0.8"/>
<clipPath id="cd1"><path d="M18.00 443.00 C19.20 442.97 22.78 443.40 25.20 442.80 C27.62 442.20 30.48 440.97 32.50 439.40 C34.52 437.83 35.90 436.22 37.30 433.40 C38.70 430.58 39.75 426.72 40.90 422.50 C42.05 418.28 43.15 413.18 44.20 408.10 C45.25 403.02 46.27 396.18 47.20 392.00 C48.13 387.82 48.78 386.42 49.80 383.00 C50.82 379.58 52.17 375.00 53.30 371.50 C54.43 368.00 55.73 364.33 56.60 362.00 C57.47 359.67 58.00 358.42 58.50 357.50 C59.00 356.58 59.28 355.08 59.60 356.50 C59.92 357.92 60.20 362.35 60.40 366.00 C60.60 369.65 60.60 373.48 60.80 378.40 C61.00 383.32 61.15 390.47 61.60 395.50 C62.05 400.53 62.85 404.23 63.50 408.60 C64.15 412.97 64.83 417.77 65.50 421.70 C66.17 425.63 66.63 429.35 67.50 432.20 C68.37 435.05 69.50 437.15 70.70 438.80 C71.90 440.45 73.32 441.40 74.70 442.10 C76.08 442.80 78.28 442.85 79.00 443.00 Z"/></clipPath><clipPath id="cs1"><path d="M30.00 443.00 C30.82 442.98 32.88 443.30 34.90 442.90 C36.92 442.50 40.10 441.78 42.10 440.60 C44.10 439.42 45.50 438.42 46.90 435.80 C48.30 433.18 49.40 429.52 50.50 424.90 C51.60 420.28 52.58 413.92 53.50 408.10 C54.42 402.28 55.48 394.95 56.00 390.00 C56.52 385.05 56.33 382.33 56.60 378.40 C56.87 374.47 57.18 370.25 57.60 366.40 C58.02 362.55 58.67 357.30 59.10 355.30 C59.53 353.30 59.73 354.02 60.20 354.40 C60.67 354.78 61.35 356.50 61.90 357.60 C62.45 358.70 62.97 357.72 63.50 361.00 C64.03 364.28 64.77 373.30 65.10 377.30 C65.43 381.30 65.22 382.40 65.50 385.00 C65.78 387.60 66.37 389.62 66.80 392.90 C67.23 396.18 67.55 400.55 68.10 404.70 C68.65 408.85 69.43 413.65 70.10 417.80 C70.77 421.95 71.33 426.32 72.10 429.60 C72.87 432.88 73.62 435.53 74.70 437.50 C75.78 439.47 77.05 440.50 78.60 441.40 C80.15 442.30 82.43 442.63 84.00 442.90 C85.57 443.17 87.33 442.98 88.00 443.00 Z"/></clipPath>
<path d="M18.00 443.00 C19.20 442.97 22.78 443.40 25.20 442.80 C27.62 442.20 30.48 440.97 32.50 439.40 C34.52 437.83 35.90 436.22 37.30 433.40 C38.70 430.58 39.75 426.72 40.90 422.50 C42.05 418.28 43.15 413.18 44.20 408.10 C45.25 403.02 46.27 396.18 47.20 392.00 C48.13 387.82 48.78 386.42 49.80 383.00 C50.82 379.58 52.17 375.00 53.30 371.50 C54.43 368.00 55.73 364.33 56.60 362.00 C57.47 359.67 58.00 358.42 58.50 357.50 C59.00 356.58 59.28 355.08 59.60 356.50 C59.92 357.92 60.20 362.35 60.40 366.00 C60.60 369.65 60.60 373.48 60.80 378.40 C61.00 383.32 61.15 390.47 61.60 395.50 C62.05 400.53 62.85 404.23 63.50 408.60 C64.15 412.97 64.83 417.77 65.50 421.70 C66.17 425.63 66.63 429.35 67.50 432.20 C68.37 435.05 69.50 437.15 70.70 438.80 C71.90 440.45 73.32 441.40 74.70 442.10 C76.08 442.80 78.28 442.85 79.00 443.00 Z" fill="#e0e0e0"/>
<path d="M30.00 443.00 C30.82 442.98 32.88 443.30 34.90 442.90 C36.92 442.50 40.10 441.78 42.10 440.60 C44.10 439.42 45.50 438.42 46.90 435.80 C48.30 433.18 49.40 429.52 50.50 424.90 C51.60 420.28 52.58 413.92 53.50 408.10 C54.42 402.28 55.48 394.95 56.00 390.00 C56.52 385.05 56.33 382.33 56.60 378.40 C56.87 374.47 57.18 370.25 57.60 366.40 C58.02 362.55 58.67 357.30 59.10 355.30 C59.53 353.30 59.73 354.02 60.20 354.40 C60.67 354.78 61.35 356.50 61.90 357.60 C62.45 358.70 62.97 357.72 63.50 361.00 C64.03 364.28 64.77 373.30 65.10 377.30 C65.43 381.30 65.22 382.40 65.50 385.00 C65.78 387.60 66.37 389.62 66.80 392.90 C67.23 396.18 67.55 400.55 68.10 404.70 C68.65 408.85 69.43 413.65 70.10 417.80 C70.77 421.95 71.33 426.32 72.10 429.60 C72.87 432.88 73.62 435.53 74.70 437.50 C75.78 439.47 77.05 440.50 78.60 441.40 C80.15 442.30 82.43 442.63 84.00 442.90 C85.57 443.17 87.33 442.98 88.00 443.00 Z" fill="#d2d2d2"/>
<g clip-path="url(#cd1)"><path d="M30.00 443.00 C30.82 442.98 32.88 443.30 34.90 442.90 C36.92 442.50 40.10 441.78 42.10 440.60 C44.10 439.42 45.50 438.42 46.90 435.80 C48.30 433.18 49.40 429.52 50.50 424.90 C51.60 420.28 52.58 413.92 53.50 408.10 C54.42 402.28 55.48 394.95 56.00 390.00 C56.52 385.05 56.33 382.33 56.60 378.40 C56.87 374.47 57.18 370.25 57.60 366.40 C58.02 362.55 58.67 357.30 59.10 355.30 C59.53 353.30 59.73 354.02 60.20 354.40 C60.67 354.78 61.35 356.50 61.90 357.60 C62.45 358.70 62.97 357.72 63.50 361.00 C64.03 364.28 64.77 373.30 65.10 377.30 C65.43 381.30 65.22 382.40 65.50 385.00 C65.78 387.60 66.37 389.62 66.80 392.90 C67.23 396.18 67.55 400.55 68.10 404.70 C68.65 408.85 69.43 413.65 70.10 417.80 C70.77 421.95 71.33 426.32 72.10 429.60 C72.87 432.88 73.62 435.53 74.70 437.50 C75.78 439.47 77.05 440.50 78.60 441.40 C80.15 442.30 82.43 442.63 84.00 442.90 C85.57 443.17 87.33 442.98 88.00 443.00 Z" fill="#c4c7c4"/></g>
<path d="M36.00 443.00 C36.62 442.98 38.28 443.10 39.70 442.90 C41.12 442.70 43.00 442.58 44.50 441.80 C46.00 441.02 47.50 440.82 48.70 438.20 C49.90 435.58 50.60 431.12 51.70 426.10 C52.80 421.08 54.18 414.12 55.30 408.10 C56.42 402.08 57.70 392.85 58.40 390.00 C59.10 387.15 59.20 391.17 59.50 391.00 C59.80 390.83 60.02 390.83 60.20 389.00 C60.38 387.17 60.40 382.50 60.60 380.00 C60.80 377.50 60.95 376.03 61.40 374.00 C61.85 371.97 62.77 368.13 63.30 367.80 C63.83 367.47 64.22 370.30 64.60 372.00 C64.98 373.70 65.25 376.43 65.60 378.00 C65.95 379.57 66.38 380.23 66.70 381.40 C67.02 382.57 67.05 383.08 67.50 385.00 C67.95 386.92 68.87 389.62 69.40 392.90 C69.93 396.18 70.15 400.55 70.70 404.70 C71.25 408.85 72.03 413.87 72.70 417.80 C73.37 421.73 73.93 425.02 74.70 428.30 C75.47 431.58 76.22 435.20 77.30 437.50 C78.38 439.80 79.88 441.20 81.20 442.10 C82.52 443.00 83.90 442.75 85.20 442.90 C86.50 443.05 88.37 442.98 89.00 443.00 Z" fill="#c2719e"/>
<g clip-path="url(#cs1)"><path d="M36.00 443.00 C36.62 442.98 38.28 443.10 39.70 442.90 C41.12 442.70 43.00 442.58 44.50 441.80 C46.00 441.02 47.50 440.82 48.70 438.20 C49.90 435.58 50.60 431.12 51.70 426.10 C52.80 421.08 54.18 414.12 55.30 408.10 C56.42 402.08 57.70 392.85 58.40 390.00 C59.10 387.15 59.20 391.17 59.50 391.00 C59.80 390.83 60.02 390.83 60.20 389.00 C60.38 387.17 60.40 382.50 60.60 380.00 C60.80 377.50 60.95 376.03 61.40 374.00 C61.85 371.97 62.77 368.13 63.30 367.80 C63.83 367.47 64.22 370.30 64.60 372.00 C64.98 373.70 65.25 376.43 65.60 378.00 C65.95 379.57 66.38 380.23 66.70 381.40 C67.02 382.57 67.05 383.08 67.50 385.00 C67.95 386.92 68.87 389.62 69.40 392.90 C69.93 396.18 70.15 400.55 70.70 404.70 C71.25 408.85 72.03 413.87 72.70 417.80 C73.37 421.73 73.93 425.02 74.70 428.30 C75.47 431.58 76.22 435.20 77.30 437.50 C78.38 439.80 79.88 441.20 81.20 442.10 C82.52 443.00 83.90 442.75 85.20 442.90 C86.50 443.05 88.37 442.98 89.00 443.00 Z" fill="#ad5c89"/></g>
<g clip-path="url(#cd1)"><path d="M36.00 443.00 C36.62 442.98 38.28 443.10 39.70 442.90 C41.12 442.70 43.00 442.58 44.50 441.80 C46.00 441.02 47.50 440.82 48.70 438.20 C49.90 435.58 50.60 431.12 51.70 426.10 C52.80 421.08 54.18 414.12 55.30 408.10 C56.42 402.08 57.70 392.85 58.40 390.00 C59.10 387.15 59.20 391.17 59.50 391.00 C59.80 390.83 60.02 390.83 60.20 389.00 C60.38 387.17 60.40 382.50 60.60 380.00 C60.80 377.50 60.95 376.03 61.40 374.00 C61.85 371.97 62.77 368.13 63.30 367.80 C63.83 367.47 64.22 370.30 64.60 372.00 C64.98 373.70 65.25 376.43 65.60 378.00 C65.95 379.57 66.38 380.23 66.70 381.40 C67.02 382.57 67.05 383.08 67.50 385.00 C67.95 386.92 68.87 389.62 69.40 392.90 C69.93 396.18 70.15 400.55 70.70 404.70 C71.25 408.85 72.03 413.87 72.70 417.80 C73.37 421.73 73.93 425.02 74.70 428.30 C75.47 431.58 76.22 435.20 77.30 437.50 C78.38 439.80 79.88 441.20 81.20 442.10 C82.52 443.00 83.90 442.75 85.20 442.90 C86.50 443.05 88.37 442.98 89.00 443.00 Z" fill="#9f4878"/></g>
<path d="M18.00 443.00 C19.20 442.97 22.78 443.40 25.20 442.80 C27.62 442.20 30.48 440.97 32.50 439.40 C34.52 437.83 35.90 436.22 37.30 433.40 C38.70 430.58 39.75 426.72 40.90 422.50 C42.05 418.28 43.15 413.18 44.20 408.10 C45.25 403.02 46.27 396.18 47.20 392.00 C48.13 387.82 48.78 386.42 49.80 383.00 C50.82 379.58 52.17 375.00 53.30 371.50 C54.43 368.00 55.73 364.33 56.60 362.00 C57.47 359.67 58.00 358.42 58.50 357.50 C59.00 356.58 59.28 355.08 59.60 356.50 C59.92 357.92 60.20 362.35 60.40 366.00 C60.60 369.65 60.60 373.48 60.80 378.40 C61.00 383.32 61.15 390.47 61.60 395.50 C62.05 400.53 62.85 404.23 63.50 408.60 C64.15 412.97 64.83 417.77 65.50 421.70 C66.17 425.63 66.63 429.35 67.50 432.20 C68.37 435.05 69.50 437.15 70.70 438.80 C71.90 440.45 73.32 441.40 74.70 442.10 C76.08 442.80 78.28 442.85 79.00 443.00" fill="none" stroke="#444" stroke-width="1.0" stroke-dasharray="2.6 1.6"/>
<path d="M36.00 443.00 C36.62 442.98 38.28 443.10 39.70 442.90 C41.12 442.70 43.00 442.58 44.50 441.80 C46.00 441.02 47.50 440.82 48.70 438.20 C49.90 435.58 50.60 431.12 51.70 426.10 C52.80 421.08 54.18 414.12 55.30 408.10 C56.42 402.08 57.70 392.85 58.40 390.00 C59.10 387.15 59.20 391.17 59.50 391.00 C59.80 390.83 60.02 390.83 60.20 389.00 C60.38 387.17 60.40 382.50 60.60 380.00 C60.80 377.50 60.95 376.03 61.40 374.00 C61.85 371.97 62.77 368.13 63.30 367.80 C63.83 367.47 64.22 370.30 64.60 372.00 C64.98 373.70 65.25 376.43 65.60 378.00 C65.95 379.57 66.38 380.23 66.70 381.40 C67.02 382.57 67.05 383.08 67.50 385.00 C67.95 386.92 68.87 389.62 69.40 392.90 C69.93 396.18 70.15 400.55 70.70 404.70 C71.25 408.85 72.03 413.87 72.70 417.80 C73.37 421.73 73.93 425.02 74.70 428.30 C75.47 431.58 76.22 435.20 77.30 437.50 C78.38 439.80 79.88 441.20 81.20 442.10 C82.52 443.00 83.90 442.75 85.20 442.90 C86.50 443.05 88.37 442.98 89.00 443.00" fill="none" stroke="#e8308a" stroke-width="0.95"/>
<path d="M30.00 443.00 C30.82 442.98 32.88 443.30 34.90 442.90 C36.92 442.50 40.10 441.78 42.10 440.60 C44.10 439.42 45.50 438.42 46.90 435.80 C48.30 433.18 49.40 429.52 50.50 424.90 C51.60 420.28 52.58 413.92 53.50 408.10 C54.42 402.28 55.48 394.95 56.00 390.00 C56.52 385.05 56.33 382.33 56.60 378.40 C56.87 374.47 57.18 370.25 57.60 366.40 C58.02 362.55 58.67 357.30 59.10 355.30 C59.53 353.30 59.73 354.02 60.20 354.40 C60.67 354.78 61.35 356.50 61.90 357.60 C62.45 358.70 62.97 357.72 63.50 361.00 C64.03 364.28 64.77 373.30 65.10 377.30 C65.43 381.30 65.22 382.40 65.50 385.00 C65.78 387.60 66.37 389.62 66.80 392.90 C67.23 396.18 67.55 400.55 68.10 404.70 C68.65 408.85 69.43 413.65 70.10 417.80 C70.77 421.95 71.33 426.32 72.10 429.60 C72.87 432.88 73.62 435.53 74.70 437.50 C75.78 439.47 77.05 440.50 78.60 441.40 C80.15 442.30 82.43 442.63 84.00 442.90 C85.57 443.17 87.33 442.98 88.00 443.00" fill="none" stroke="#333" stroke-width="0.9"/>
<line x1="15.5" y1="442.4" x2="119.5" y2="442.4" stroke="#333" stroke-width="1"/>
<text x="12.7" y="399.3" font-size="9" text-anchor="middle" font-weight="normal" font-style="normal" fill="#111" transform="rotate(-90 12.7 399.3)">Normalized to Mode</text>
<text x="0" y="0" font-size="9.4" text-anchor="start" font-weight="normal" font-style="normal" fill="#111" transform="translate(19 453.3) scale(1 1.08)">TIGIT</text>
<line x1="50" y1="449.3" x2="115" y2="449.3" stroke="#222" stroke-width="1"/>
<path d="M112.5 446.8 L119 449.3 L112.5 451.8 Z" fill="#222"/>
<text x="0" y="0" font-size="15.5" text-anchor="start" font-weight="bold" font-style="normal" fill="#000" transform="translate(262.7 334.1) scale(1 1.1)">G</text>
<text x="0" y="0" font-size="9.6" text-anchor="middle" font-weight="normal" font-style="normal" fill="#111" transform="translate(329.4 335.9) scale(1 1.1)">E/M Stable Treg</text>
<rect x="278.75" y="339.5" width="103.75" height="103.5" fill="#fff" stroke="#aaa" stroke-width="0.8"/>
<clipPath id="cd2"><path d="M283.00 442.80 C284.00 442.67 287.17 442.72 289.00 442.00 C290.83 441.28 292.58 439.75 294.00 438.50 C295.42 437.25 296.50 435.97 297.50 434.50 C298.50 433.03 298.98 433.12 300.00 429.70 C301.02 426.28 302.60 418.62 303.60 414.00 C304.60 409.38 305.30 406.00 306.00 402.00 C306.70 398.00 307.27 392.47 307.80 390.00 C308.33 387.53 308.60 388.48 309.20 387.20 C309.80 385.92 310.88 383.25 311.40 382.30 C311.92 381.35 312.03 380.55 312.30 381.50 C312.57 382.45 312.75 385.75 313.00 388.00 C313.25 390.25 313.37 392.87 313.80 395.00 C314.23 397.13 314.90 398.03 315.60 400.80 C316.30 403.57 317.10 407.78 318.00 411.60 C318.90 415.42 319.80 419.68 321.00 423.70 C322.20 427.72 323.70 432.57 325.20 435.70 C326.70 438.83 328.53 441.32 330.00 442.50 C331.47 443.68 333.33 442.75 334.00 442.80 Z"/></clipPath><clipPath id="cs2"><path d="M285.00 442.80 C286.17 442.72 290.00 442.52 292.00 442.30 C294.00 442.08 295.67 441.80 297.00 441.50 C298.33 441.20 298.90 441.67 300.00 440.50 C301.10 439.33 302.40 437.70 303.60 434.50 C304.80 431.30 306.00 425.72 307.20 421.30 C308.40 416.88 309.80 412.02 310.80 408.00 C311.80 403.98 312.70 400.20 313.20 397.20 C313.70 394.20 313.65 393.53 313.80 390.00 C313.95 386.47 313.87 380.48 314.10 376.00 C314.33 371.52 314.83 365.70 315.20 363.10 C315.57 360.50 315.93 360.30 316.30 360.40 C316.67 360.50 317.03 363.80 317.40 363.70 C317.77 363.60 318.13 360.90 318.50 359.80 C318.87 358.70 319.23 357.27 319.60 357.10 C319.97 356.93 320.42 357.80 320.70 358.80 C320.98 359.80 321.07 360.92 321.30 363.10 C321.53 365.28 321.83 369.70 322.10 371.90 C322.37 374.10 322.50 374.67 322.90 376.30 C323.30 377.93 323.95 379.70 324.50 381.70 C325.05 383.70 325.68 385.32 326.20 388.30 C326.72 391.28 327.07 397.12 327.60 399.60 C328.13 402.08 328.90 401.40 329.40 403.20 C329.90 405.00 329.97 408.00 330.60 410.40 C331.23 412.80 332.33 415.38 333.20 417.60 C334.07 419.82 334.78 421.68 335.80 423.70 C336.82 425.72 338.13 427.57 339.30 429.70 C340.47 431.83 341.63 434.90 342.80 436.50 C343.97 438.10 345.02 438.60 346.30 439.30 C347.58 440.00 349.05 440.17 350.50 440.70 C351.95 441.23 353.75 442.15 355.00 442.50 C356.25 442.85 357.50 442.75 358.00 442.80 Z"/></clipPath>
<path d="M283.00 442.80 C284.00 442.67 287.17 442.72 289.00 442.00 C290.83 441.28 292.58 439.75 294.00 438.50 C295.42 437.25 296.50 435.97 297.50 434.50 C298.50 433.03 298.98 433.12 300.00 429.70 C301.02 426.28 302.60 418.62 303.60 414.00 C304.60 409.38 305.30 406.00 306.00 402.00 C306.70 398.00 307.27 392.47 307.80 390.00 C308.33 387.53 308.60 388.48 309.20 387.20 C309.80 385.92 310.88 383.25 311.40 382.30 C311.92 381.35 312.03 380.55 312.30 381.50 C312.57 382.45 312.75 385.75 313.00 388.00 C313.25 390.25 313.37 392.87 313.80 395.00 C314.23 397.13 314.90 398.03 315.60 400.80 C316.30 403.57 317.10 407.78 318.00 411.60 C318.90 415.42 319.80 419.68 321.00 423.70 C322.20 427.72 323.70 432.57 325.20 435.70 C326.70 438.83 328.53 441.32 330.00 442.50 C331.47 443.68 333.33 442.75 334.00 442.80 Z" fill="#e0e0e0"/>
<path d="M285.00 442.80 C286.17 442.72 290.00 442.52 292.00 442.30 C294.00 442.08 295.67 441.80 297.00 441.50 C298.33 441.20 298.90 441.67 300.00 440.50 C301.10 439.33 302.40 437.70 303.60 434.50 C304.80 431.30 306.00 425.72 307.20 421.30 C308.40 416.88 309.80 412.02 310.80 408.00 C311.80 403.98 312.70 400.20 313.20 397.20 C313.70 394.20 313.65 393.53 313.80 390.00 C313.95 386.47 313.87 380.48 314.10 376.00 C314.33 371.52 314.83 365.70 315.20 363.10 C315.57 360.50 315.93 360.30 316.30 360.40 C316.67 360.50 317.03 363.80 317.40 363.70 C317.77 363.60 318.13 360.90 318.50 359.80 C318.87 358.70 319.23 357.27 319.60 357.10 C319.97 356.93 320.42 357.80 320.70 358.80 C320.98 359.80 321.07 360.92 321.30 363.10 C321.53 365.28 321.83 369.70 322.10 371.90 C322.37 374.10 322.50 374.67 322.90 376.30 C323.30 377.93 323.95 379.70 324.50 381.70 C325.05 383.70 325.68 385.32 326.20 388.30 C326.72 391.28 327.07 397.12 327.60 399.60 C328.13 402.08 328.90 401.40 329.40 403.20 C329.90 405.00 329.97 408.00 330.60 410.40 C331.23 412.80 332.33 415.38 333.20 417.60 C334.07 419.82 334.78 421.68 335.80 423.70 C336.82 425.72 338.13 427.57 339.30 429.70 C340.47 431.83 341.63 434.90 342.80 436.50 C343.97 438.10 345.02 438.60 346.30 439.30 C347.58 440.00 349.05 440.17 350.50 440.70 C351.95 441.23 353.75 442.15 355.00 442.50 C356.25 442.85 357.50 442.75 358.00 442.80 Z" fill="#d2d2d2"/>
<g clip-path="url(#cd2)"><path d="M285.00 442.80 C286.17 442.72 290.00 442.52 292.00 442.30 C294.00 442.08 295.67 441.80 297.00 441.50 C298.33 441.20 298.90 441.67 300.00 440.50 C301.10 439.33 302.40 437.70 303.60 434.50 C304.80 431.30 306.00 425.72 307.20 421.30 C308.40 416.88 309.80 412.02 310.80 408.00 C311.80 403.98 312.70 400.20 313.20 397.20 C313.70 394.20 313.65 393.53 313.80 390.00 C313.95 386.47 313.87 380.48 314.10 376.00 C314.33 371.52 314.83 365.70 315.20 363.10 C315.57 360.50 315.93 360.30 316.30 360.40 C316.67 360.50 317.03 363.80 317.40 363.70 C317.77 363.60 318.13 360.90 318.50 359.80 C318.87 358.70 319.23 357.27 319.60 357.10 C319.97 356.93 320.42 357.80 320.70 358.80 C320.98 359.80 321.07 360.92 321.30 363.10 C321.53 365.28 321.83 369.70 322.10 371.90 C322.37 374.10 322.50 374.67 322.90 376.30 C323.30 377.93 323.95 379.70 324.50 381.70 C325.05 383.70 325.68 385.32 326.20 388.30 C326.72 391.28 327.07 397.12 327.60 399.60 C328.13 402.08 328.90 401.40 329.40 403.20 C329.90 405.00 329.97 408.00 330.60 410.40 C331.23 412.80 332.33 415.38 333.20 417.60 C334.07 419.82 334.78 421.68 335.80 423.70 C336.82 425.72 338.13 427.57 339.30 429.70 C340.47 431.83 341.63 434.90 342.80 436.50 C343.97 438.10 345.02 438.60 346.30 439.30 C347.58 440.00 349.05 440.17 350.50 440.70 C351.95 441.23 353.75 442.15 355.00 442.50 C356.25 442.85 357.50 442.75 358.00 442.80 Z" fill="#c4c7c4"/></g>
<path d="M300.00 442.80 C300.80 442.75 303.70 444.08 304.80 442.50 C305.90 440.92 305.90 437.05 306.60 433.30 C307.30 429.55 308.20 422.62 309.00 420.00 C309.80 417.38 310.70 418.40 311.40 417.60 C312.10 416.80 312.70 417.00 313.20 415.20 C313.70 413.40 314.00 409.80 314.40 406.80 C314.80 403.80 315.28 400.10 315.60 397.20 C315.92 394.30 316.00 392.17 316.30 389.40 C316.60 386.63 317.03 382.33 317.40 380.60 C317.77 378.87 318.00 379.18 318.50 379.00 C319.00 378.82 319.85 380.23 320.40 379.50 C320.95 378.77 321.38 375.60 321.80 374.60 C322.22 373.60 322.53 373.22 322.90 373.50 C323.27 373.78 323.45 375.65 324.00 376.30 C324.55 376.95 325.65 376.50 326.20 377.40 C326.75 378.30 326.93 380.07 327.30 381.70 C327.67 383.33 327.85 384.22 328.40 387.20 C328.95 390.18 330.02 395.73 330.60 399.60 C331.18 403.47 331.53 407.40 331.90 410.40 C332.27 413.40 332.33 415.38 332.80 417.60 C333.27 419.82 333.83 421.68 334.70 423.70 C335.57 425.72 336.87 427.57 338.00 429.70 C339.13 431.83 340.25 434.78 341.50 436.50 C342.75 438.22 343.75 439.00 345.50 440.00 C347.25 441.00 350.08 442.03 352.00 442.50 C353.92 442.97 356.17 442.75 357.00 442.80 Z" fill="#c2719e"/>
<g clip-path="url(#cs2)"><path d="M300.00 442.80 C300.80 442.75 303.70 444.08 304.80 442.50 C305.90 440.92 305.90 437.05 306.60 433.30 C307.30 429.55 308.20 422.62 309.00 420.00 C309.80 417.38 310.70 418.40 311.40 417.60 C312.10 416.80 312.70 417.00 313.20 415.20 C313.70 413.40 314.00 409.80 314.40 406.80 C314.80 403.80 315.28 400.10 315.60 397.20 C315.92 394.30 316.00 392.17 316.30 389.40 C316.60 386.63 317.03 382.33 317.40 380.60 C317.77 378.87 318.00 379.18 318.50 379.00 C319.00 378.82 319.85 380.23 320.40 379.50 C320.95 378.77 321.38 375.60 321.80 374.60 C322.22 373.60 322.53 373.22 322.90 373.50 C323.27 373.78 323.45 375.65 324.00 376.30 C324.55 376.95 325.65 376.50 326.20 377.40 C326.75 378.30 326.93 380.07 327.30 381.70 C327.67 383.33 327.85 384.22 328.40 387.20 C328.95 390.18 330.02 395.73 330.60 399.60 C331.18 403.47 331.53 407.40 331.90 410.40 C332.27 413.40 332.33 415.38 332.80 417.60 C333.27 419.82 333.83 421.68 334.70 423.70 C335.57 425.72 336.87 427.57 338.00 429.70 C339.13 431.83 340.25 434.78 341.50 436.50 C342.75 438.22 343.75 439.00 345.50 440.00 C347.25 441.00 350.08 442.03 352.00 442.50 C353.92 442.97 356.17 442.75 357.00 442.80 Z" fill="#ad5c89"/></g>
<g clip-path="url(#cd2)"><path d="M300.00 442.80 C300.80 442.75 303.70 444.08 304.80 442.50 C305.90 440.92 305.90 437.05 306.60 433.30 C307.30 429.55 308.20 422.62 309.00 420.00 C309.80 417.38 310.70 418.40 311.40 417.60 C312.10 416.80 312.70 417.00 313.20 415.20 C313.70 413.40 314.00 409.80 314.40 406.80 C314.80 403.80 315.28 400.10 315.60 397.20 C315.92 394.30 316.00 392.17 316.30 389.40 C316.60 386.63 317.03 382.33 317.40 380.60 C317.77 378.87 318.00 379.18 318.50 379.00 C319.00 378.82 319.85 380.23 320.40 379.50 C320.95 378.77 321.38 375.60 321.80 374.60 C322.22 373.60 322.53 373.22 322.90 373.50 C323.27 373.78 323.45 375.65 324.00 376.30 C324.55 376.95 325.65 376.50 326.20 377.40 C326.75 378.30 326.93 380.07 327.30 381.70 C327.67 383.33 327.85 384.22 328.40 387.20 C328.95 390.18 330.02 395.73 330.60 399.60 C331.18 403.47 331.53 407.40 331.90 410.40 C332.27 413.40 332.33 415.38 332.80 417.60 C333.27 419.82 333.83 421.68 334.70 423.70 C335.57 425.72 336.87 427.57 338.00 429.70 C339.13 431.83 340.25 434.78 341.50 436.50 C342.75 438.22 343.75 439.00 345.50 440.00 C347.25 441.00 350.08 442.03 352.00 442.50 C353.92 442.97 356.17 442.75 357.00 442.80 Z" fill="#9f4878"/></g>
<path d="M283.00 442.80 C284.00 442.67 287.17 442.72 289.00 442.00 C290.83 441.28 292.58 439.75 294.00 438.50 C295.42 437.25 296.50 435.97 297.50 434.50 C298.50 433.03 298.98 433.12 300.00 429.70 C301.02 426.28 302.60 418.62 303.60 414.00 C304.60 409.38 305.30 406.00 306.00 402.00 C306.70 398.00 307.27 392.47 307.80 390.00 C308.33 387.53 308.60 388.48 309.20 387.20 C309.80 385.92 310.88 383.25 311.40 382.30 C311.92 381.35 312.03 380.55 312.30 381.50 C312.57 382.45 312.75 385.75 313.00 388.00 C313.25 390.25 313.37 392.87 313.80 395.00 C314.23 397.13 314.90 398.03 315.60 400.80 C316.30 403.57 317.10 407.78 318.00 411.60 C318.90 415.42 319.80 419.68 321.00 423.70 C322.20 427.72 323.70 432.57 325.20 435.70 C326.70 438.83 328.53 441.32 330.00 442.50 C331.47 443.68 333.33 442.75 334.00 442.80" fill="none" stroke="#444" stroke-width="1.0" stroke-dasharray="2.6 1.6"/>
<path d="M300.00 442.80 C300.80 442.75 303.70 444.08 304.80 442.50 C305.90 440.92 305.90 437.05 306.60 433.30 C307.30 429.55 308.20 422.62 309.00 420.00 C309.80 417.38 310.70 418.40 311.40 417.60 C312.10 416.80 312.70 417.00 313.20 415.20 C313.70 413.40 314.00 409.80 314.40 406.80 C314.80 403.80 315.28 400.10 315.60 397.20 C315.92 394.30 316.00 392.17 316.30 389.40 C316.60 386.63 317.03 382.33 317.40 380.60 C317.77 378.87 318.00 379.18 318.50 379.00 C319.00 378.82 319.85 380.23 320.40 379.50 C320.95 378.77 321.38 375.60 321.80 374.60 C322.22 373.60 322.53 373.22 322.90 373.50 C323.27 373.78 323.45 375.65 324.00 376.30 C324.55 376.95 325.65 376.50 326.20 377.40 C326.75 378.30 326.93 380.07 327.30 381.70 C327.67 383.33 327.85 384.22 328.40 387.20 C328.95 390.18 330.02 395.73 330.60 399.60 C331.18 403.47 331.53 407.40 331.90 410.40 C332.27 413.40 332.33 415.38 332.80 417.60 C333.27 419.82 333.83 421.68 334.70 423.70 C335.57 425.72 336.87 427.57 338.00 429.70 C339.13 431.83 340.25 434.78 341.50 436.50 C342.75 438.22 343.75 439.00 345.50 440.00 C347.25 441.00 350.08 442.03 352.00 442.50 C353.92 442.97 356.17 442.75 357.00 442.80" fill="none" stroke="#e8308a" stroke-width="0.95"/>
<path d="M285.00 442.80 C286.17 442.72 290.00 442.52 292.00 442.30 C294.00 442.08 295.67 441.80 297.00 441.50 C298.33 441.20 298.90 441.67 300.00 440.50 C301.10 439.33 302.40 437.70 303.60 434.50 C304.80 431.30 306.00 425.72 307.20 421.30 C308.40 416.88 309.80 412.02 310.80 408.00 C311.80 403.98 312.70 400.20 313.20 397.20 C313.70 394.20 313.65 393.53 313.80 390.00 C313.95 386.47 313.87 380.48 314.10 376.00 C314.33 371.52 314.83 365.70 315.20 363.10 C315.57 360.50 315.93 360.30 316.30 360.40 C316.67 360.50 317.03 363.80 317.40 363.70 C317.77 363.60 318.13 360.90 318.50 359.80 C318.87 358.70 319.23 357.27 319.60 357.10 C319.97 356.93 320.42 357.80 320.70 358.80 C320.98 359.80 321.07 360.92 321.30 363.10 C321.53 365.28 321.83 369.70 322.10 371.90 C322.37 374.10 322.50 374.67 322.90 376.30 C323.30 377.93 323.95 379.70 324.50 381.70 C325.05 383.70 325.68 385.32 326.20 388.30 C326.72 391.28 327.07 397.12 327.60 399.60 C328.13 402.08 328.90 401.40 329.40 403.20 C329.90 405.00 329.97 408.00 330.60 410.40 C331.23 412.80 332.33 415.38 333.20 417.60 C334.07 419.82 334.78 421.68 335.80 423.70 C336.82 425.72 338.13 427.57 339.30 429.70 C340.47 431.83 341.63 434.90 342.80 436.50 C343.97 438.10 345.02 438.60 346.30 439.30 C347.58 440.00 349.05 440.17 350.50 440.70 C351.95 441.23 353.75 442.15 355.00 442.50 C356.25 442.85 357.50 442.75 358.00 442.80" fill="none" stroke="#333" stroke-width="0.9"/>
<line x1="278.75" y1="442.4" x2="382.5" y2="442.4" stroke="#333" stroke-width="1"/>
<text x="274.9" y="399.3" font-size="9" text-anchor="middle" font-weight="normal" font-style="normal" fill="#111" transform="rotate(-90 274.9 399.3)">Normalized to Mode</text>
<text x="0" y="0" font-size="9.4" text-anchor="start" font-weight="normal" font-style="normal" fill="#111" transform="translate(280.9 453.9) scale(1 1.08)">TIGIT</text>
<line x1="311.3" y1="450" x2="378" y2="450" stroke="#222" stroke-width="1"/>
<path d="M375.5 447.5 L382 450 L375.5 452.5 Z" fill="#222"/>
<text x="0" y="0" font-size="15.5" text-anchor="start" font-weight="bold" font-style="normal" fill="#000" transform="translate(125.5 333.9) scale(1 1.1)">F</text>
<text x="0" y="0" font-size="9.6" text-anchor="middle" font-weight="normal" font-style="normal" fill="#111" transform="translate(209.2 335.9) scale(1 1.1)">E/M CD4<tspan font-size="5.5" dy="-3.8">+</tspan><tspan dy="3.8"> Tconv</tspan></text>
<line x1="159.5" y1="341.75" x2="159.5" y2="440.5" stroke="#858585" stroke-width="1"/>
<line x1="155" y1="440.5" x2="159" y2="440.5" stroke="#858585" stroke-width="1"/>
<text x="0" y="0" font-size="7.4" text-anchor="end" font-weight="normal" font-style="normal" fill="#111" transform="translate(153.4 443.5636) scale(1 1.15)">0</text>
<line x1="155" y1="420.75" x2="159" y2="420.75" stroke="#858585" stroke-width="1"/>
<text x="0" y="0" font-size="7.4" text-anchor="end" font-weight="normal" font-style="normal" fill="#111" transform="translate(153.4 423.8136) scale(1 1.15)">1,000</text>
<line x1="155" y1="401.0" x2="159" y2="401.0" stroke="#858585" stroke-width="1"/>
<text x="0" y="0" font-size="7.4" text-anchor="end" font-weight="normal" font-style="normal" fill="#111" transform="translate(153.4 404.0636) scale(1 1.15)">2,000</text>
<line x1="155" y1="381.25" x2="159" y2="381.25" stroke="#858585" stroke-width="1"/>
<text x="0" y="0" font-size="7.4" text-anchor="end" font-weight="normal" font-style="normal" fill="#111" transform="translate(153.4 384.3136) scale(1 1.15)">3,000</text>
<line x1="155" y1="361.5" x2="159" y2="361.5" stroke="#858585" stroke-width="1"/>
<text x="0" y="0" font-size="7.4" text-anchor="end" font-weight="normal" font-style="normal" fill="#111" transform="translate(153.4 364.5636) scale(1 1.15)">4,000</text>
<line x1="155" y1="341.75" x2="159" y2="341.75" stroke="#858585" stroke-width="1"/>
<text x="0" y="0" font-size="7.4" text-anchor="end" font-weight="normal" font-style="normal" fill="#111" transform="translate(153.4 344.8136) scale(1 1.15)">5,000</text>
<text x="131.3" y="391" font-size="8.4" text-anchor="middle" font-weight="normal" font-style="normal" fill="#111" transform="rotate(-90 131.3 391)">TIGIT (gMFI)</text>
<line x1="159" y1="440.5" x2="257.3" y2="440.5" stroke="#ccc" stroke-width="1.0"/>
<line x1="159" y1="440.5" x2="257.3" y2="440.5" stroke="#333" stroke-width="1.3" stroke-dasharray="1.7 1.13"/>
<line x1="182.5" y1="440.5" x2="182.5" y2="444.5" stroke="#858585" stroke-width="1"/>
<line x1="235.5" y1="440.5" x2="235.5" y2="444.5" stroke="#858585" stroke-width="1"/>
<text x="182.2" y="452.2" font-size="7.4" text-anchor="middle" font-weight="normal" font-style="normal" fill="#111">PLN</text>
<text x="235.1" y="452.2" font-size="7.4" text-anchor="middle" font-weight="normal" font-style="normal" fill="#111">Pancreas</text>
<text x="0" y="0" font-size="8.2" text-anchor="middle" font-weight="normal" font-style="normal" fill="#111" transform="translate(182.4 361.9) scale(1 1.1)">0.0331</text>
<line x1="172.4" y1="366.5" x2="192.4" y2="366.5" stroke="#666" stroke-width="1"/>
<text x="0" y="0" font-size="8.2" text-anchor="middle" font-weight="normal" font-style="normal" fill="#111" transform="translate(235.3 361.9) scale(1 1.1)">0.0055</text>
<line x1="225.3" y1="366.5" x2="245.3" y2="366.5" stroke="#666" stroke-width="1"/>
<line x1="172.5" y1="393" x2="172.5" y2="403" stroke="#666" stroke-width="1"/>
<line x1="169.1" y1="393" x2="175.1" y2="393" stroke="#666" stroke-width="1"/>
<line x1="169.1" y1="403" x2="175.1" y2="403" stroke="#666" stroke-width="1"/>
<line x1="165.6" y1="398" x2="178.6" y2="398" stroke="#666" stroke-width="1"/>
<circle cx="172.10" cy="391.10" r="1.55" fill="#000"/>
<circle cx="167.80" cy="394.60" r="1.55" fill="#000"/>
<circle cx="174.70" cy="395.10" r="1.55" fill="#000"/>
<circle cx="177.30" cy="395.60" r="1.55" fill="#000"/>
<circle cx="170.40" cy="396.80" r="1.55" fill="#000"/>
<circle cx="173.00" cy="397.70" r="1.55" fill="#000"/>
<circle cx="169.50" cy="401.10" r="1.55" fill="#000"/>
<circle cx="172.10" cy="402.00" r="1.55" fill="#000"/>
<circle cx="175.60" cy="403.70" r="1.55" fill="#000"/>
<circle cx="169.50" cy="405.50" r="1.55" fill="#000"/>
<line x1="192.5" y1="389.5" x2="192.5" y2="396.5" stroke="#666" stroke-width="1"/>
<line x1="189.9" y1="389.5" x2="195.9" y2="389.5" stroke="#666" stroke-width="1"/>
<line x1="189.9" y1="396.5" x2="195.9" y2="396.5" stroke="#666" stroke-width="1"/>
<line x1="186.9" y1="393" x2="198.9" y2="393" stroke="#666" stroke-width="1"/>
<path d="M190.30 385.54 L191.70 387.97 L188.90 387.97 Z" fill="#fff" fill-opacity="0.0" stroke="#f02a82" stroke-width="0.85" stroke-linejoin="round"/>
<path d="M194.60 385.54 L196.00 387.97 L193.20 387.97 Z" fill="#fff" fill-opacity="0.0" stroke="#f02a82" stroke-width="0.85" stroke-linejoin="round"/>
<path d="M188.50 390.74 L189.90 393.17 L187.10 393.17 Z" fill="#fff" fill-opacity="0.0" stroke="#f02a82" stroke-width="0.85" stroke-linejoin="round"/>
<path d="M192.90 391.04 L194.30 393.47 L191.50 393.47 Z" fill="#fff" fill-opacity="0.0" stroke="#f02a82" stroke-width="0.85" stroke-linejoin="round"/>
<path d="M197.20 390.74 L198.60 393.17 L195.80 393.17 Z" fill="#fff" fill-opacity="0.0" stroke="#f02a82" stroke-width="0.85" stroke-linejoin="round"/>
<path d="M186.80 394.54 L188.20 396.97 L185.40 396.97 Z" fill="#fff" fill-opacity="0.0" stroke="#f02a82" stroke-width="0.85" stroke-linejoin="round"/>
<path d="M191.10 394.54 L192.50 396.97 L189.70 396.97 Z" fill="#fff" fill-opacity="0.0" stroke="#f02a82" stroke-width="0.85" stroke-linejoin="round"/>
<path d="M195.50 394.54 L196.90 396.97 L194.10 396.97 Z" fill="#fff" fill-opacity="0.0" stroke="#f02a82" stroke-width="0.85" stroke-linejoin="round"/>
<path d="M198.00 394.54 L199.40 396.97 L196.60 396.97 Z" fill="#fff" fill-opacity="0.0" stroke="#f02a82" stroke-width="0.85" stroke-linejoin="round"/>
<path d="M192.90 396.24 L194.30 398.67 L191.50 398.67 Z" fill="#fff" fill-opacity="0.0" stroke="#f02a82" stroke-width="0.85" stroke-linejoin="round"/>
<line x1="225.5" y1="385" x2="225.5" y2="395" stroke="#666" stroke-width="1"/>
<line x1="222.4" y1="385" x2="228.4" y2="385" stroke="#666" stroke-width="1"/>
<line x1="222.4" y1="395" x2="228.4" y2="395" stroke="#666" stroke-width="1"/>
<line x1="219.4" y1="389" x2="231.4" y2="389" stroke="#666" stroke-width="1"/>
<circle cx="224.90" cy="382.50" r="1.55" fill="#000"/>
<circle cx="221.40" cy="387.60" r="1.55" fill="#000"/>
<circle cx="230.10" cy="387.30" r="1.55" fill="#000"/>
<circle cx="219.70" cy="389.00" r="1.55" fill="#000"/>
<circle cx="225.70" cy="390.40" r="1.55" fill="#000"/>
<circle cx="230.10" cy="391.10" r="1.55" fill="#000"/>
<circle cx="219.70" cy="392.10" r="1.55" fill="#000"/>
<circle cx="224.90" cy="395.60" r="1.55" fill="#000"/>
<circle cx="223.10" cy="398.50" r="1.55" fill="#000"/>
<circle cx="226.60" cy="397.70" r="1.55" fill="#000"/>
<line x1="243.5" y1="379.5" x2="243.5" y2="387.5" stroke="#666" stroke-width="1"/>
<line x1="240.9" y1="379.5" x2="246.9" y2="379.5" stroke="#666" stroke-width="1"/>
<line x1="240.9" y1="387.5" x2="246.9" y2="387.5" stroke="#666" stroke-width="1"/>
<line x1="237.9" y1="383" x2="249.9" y2="383" stroke="#666" stroke-width="1"/>
<path d="M240.50 376.04 L241.90 378.47 L239.10 378.47 Z" fill="#fff" fill-opacity="0.0" stroke="#f02a82" stroke-width="0.85" stroke-linejoin="round"/>
<path d="M244.00 376.54 L245.40 378.97 L242.60 378.97 Z" fill="#fff" fill-opacity="0.0" stroke="#f02a82" stroke-width="0.85" stroke-linejoin="round"/>
<path d="M247.50 376.04 L248.90 378.47 L246.10 378.47 Z" fill="#fff" fill-opacity="0.0" stroke="#f02a82" stroke-width="0.85" stroke-linejoin="round"/>
<path d="M240.00 379.04 L241.40 381.47 L238.60 381.47 Z" fill="#fff" fill-opacity="0.0" stroke="#f02a82" stroke-width="0.85" stroke-linejoin="round"/>
<path d="M246.50 380.04 L247.90 382.47 L245.10 382.47 Z" fill="#fff" fill-opacity="0.0" stroke="#f02a82" stroke-width="0.85" stroke-linejoin="round"/>
<path d="M243.90 382.54 L245.30 384.97 L242.50 384.97 Z" fill="#fff" fill-opacity="0.0" stroke="#f02a82" stroke-width="0.85" stroke-linejoin="round"/>
<path d="M240.50 385.54 L241.90 387.97 L239.10 387.97 Z" fill="#fff" fill-opacity="0.0" stroke="#f02a82" stroke-width="0.85" stroke-linejoin="round"/>
<path d="M247.00 385.54 L248.40 387.97 L245.60 387.97 Z" fill="#fff" fill-opacity="0.0" stroke="#f02a82" stroke-width="0.85" stroke-linejoin="round"/>
<path d="M243.90 388.54 L245.30 390.97 L242.50 390.97 Z" fill="#fff" fill-opacity="0.0" stroke="#f02a82" stroke-width="0.85" stroke-linejoin="round"/>
<path d="M241.50 389.54 L242.90 391.97 L240.10 391.97 Z" fill="#fff" fill-opacity="0.0" stroke="#f02a82" stroke-width="0.85" stroke-linejoin="round"/>
<rect x="214.1" y="421.4" width="43.6" height="17.2" fill="#fff" stroke="#bbb" stroke-width="0.7"/>
<circle cx="217.90" cy="426.50" r="0.95" fill="#000"/>
<text x="0" y="0" font-size="5.8" text-anchor="start" font-weight="normal" font-style="italic" fill="#111" transform="translate(226.5 428.6) scale(1 1.12)">Cd226 WT</text>
<path d="M217.90 432.35 L219.10 434.44 L216.70 434.44 Z" fill="#fff" fill-opacity="0.0" stroke="#f02a82" stroke-width="0.7" stroke-linejoin="round"/>
<text x="0" y="0" font-size="5.8" text-anchor="start" font-weight="normal" font-style="italic" fill="#111" transform="translate(226.5 435.3) scale(1 1.12)">Cd226 gKO</text>
<text x="0" y="0" font-size="15.5" text-anchor="start" font-weight="bold" font-style="normal" fill="#000" transform="translate(388.2 333.9) scale(1 1.1)">H</text>
<text x="0" y="0" font-size="9.6" text-anchor="middle" font-weight="normal" font-style="normal" fill="#111" transform="translate(472.7 335.5) scale(1 1.1)">E/M Stable Treg</text>
<line x1="422.5" y1="341.7" x2="422.5" y2="440.2" stroke="#858585" stroke-width="1"/>
<line x1="418.6" y1="440.2" x2="422.6" y2="440.2" stroke="#858585" stroke-width="1"/>
<text x="0" y="0" font-size="7.4" text-anchor="end" font-weight="normal" font-style="normal" fill="#111" transform="translate(417.0 443.2636) scale(1 1.15)">0</text>
<line x1="418.6" y1="420.5" x2="422.6" y2="420.5" stroke="#858585" stroke-width="1"/>
<text x="0" y="0" font-size="7.4" text-anchor="end" font-weight="normal" font-style="normal" fill="#111" transform="translate(417.0 423.5636) scale(1 1.15)">1,000</text>
<line x1="418.6" y1="400.8" x2="422.6" y2="400.8" stroke="#858585" stroke-width="1"/>
<text x="0" y="0" font-size="7.4" text-anchor="end" font-weight="normal" font-style="normal" fill="#111" transform="translate(417.0 403.8636) scale(1 1.15)">2,000</text>
<line x1="418.6" y1="381.09999999999997" x2="422.6" y2="381.09999999999997" stroke="#858585" stroke-width="1"/>
<text x="0" y="0" font-size="7.4" text-anchor="end" font-weight="normal" font-style="normal" fill="#111" transform="translate(417.0 384.1636) scale(1 1.15)">3,000</text>
<line x1="418.6" y1="361.4" x2="422.6" y2="361.4" stroke="#858585" stroke-width="1"/>
<text x="0" y="0" font-size="7.4" text-anchor="end" font-weight="normal" font-style="normal" fill="#111" transform="translate(417.0 364.4636) scale(1 1.15)">4,000</text>
<line x1="418.6" y1="341.7" x2="422.6" y2="341.7" stroke="#858585" stroke-width="1"/>
<text x="0" y="0" font-size="7.4" text-anchor="end" font-weight="normal" font-style="normal" fill="#111" transform="translate(417.0 344.7636) scale(1 1.15)">5,000</text>
<text x="394.5" y="391" font-size="8.4" text-anchor="middle" font-weight="normal" font-style="normal" fill="#111" transform="rotate(-90 394.5 391)">TIGIT (gMFI)</text>
<line x1="422.6" y1="440.2" x2="520" y2="440.2" stroke="#ccc" stroke-width="1.0"/>
<line x1="422.6" y1="440.2" x2="520" y2="440.2" stroke="#333" stroke-width="1.3" stroke-dasharray="1.7 1.13"/>
<line x1="446.5" y1="440.2" x2="446.5" y2="444.2" stroke="#858585" stroke-width="1"/>
<line x1="498.5" y1="440.2" x2="498.5" y2="444.2" stroke="#858585" stroke-width="1"/>
<text x="446" y="452.6" font-size="7.4" text-anchor="middle" font-weight="normal" font-style="normal" fill="#111">PLN</text>
<text x="498.3" y="452.6" font-size="7.4" text-anchor="middle" font-weight="normal" font-style="normal" fill="#111">Pancreas</text>
<text x="0" y="0" font-size="8.2" text-anchor="middle" font-weight="normal" font-style="normal" fill="#111" transform="translate(446 370.3) scale(1 1.1)">0.9720</text>
<line x1="436" y1="374.5" x2="456" y2="374.5" stroke="#666" stroke-width="1"/>
<text x="0" y="0" font-size="8.2" text-anchor="middle" font-weight="normal" font-style="normal" fill="#111" transform="translate(498.8 370.3) scale(1 1.1)">0.0212</text>
<line x1="488.8" y1="374.5" x2="508.8" y2="374.5" stroke="#666" stroke-width="1"/>
<line x1="435.5" y1="399.2" x2="435.5" y2="413.8" stroke="#666" stroke-width="1"/>
<line x1="432.0" y1="399.2" x2="438.0" y2="399.2" stroke="#666" stroke-width="1"/>
<line x1="432.0" y1="413.8" x2="438.0" y2="413.8" stroke="#666" stroke-width="1"/>
<line x1="429.0" y1="406.5" x2="441.0" y2="406.5" stroke="#666" stroke-width="1"/>
<circle cx="433.20" cy="393.20" r="1.55" fill="#000"/>
<circle cx="436.00" cy="396.80" r="1.55" fill="#000"/>
<circle cx="430.50" cy="406.00" r="1.55" fill="#000"/>
<circle cx="433.20" cy="406.50" r="1.55" fill="#000"/>
<circle cx="437.80" cy="407.40" r="1.55" fill="#000"/>
<circle cx="434.10" cy="409.30" r="1.55" fill="#000"/>
<circle cx="438.70" cy="408.90" r="1.55" fill="#000"/>
<circle cx="435.00" cy="410.70" r="1.55" fill="#000"/>
<circle cx="433.20" cy="413.80" r="1.55" fill="#000"/>
<circle cx="438.70" cy="412.50" r="1.55" fill="#000"/>
<line x1="455.5" y1="403.8" x2="455.5" y2="410.2" stroke="#666" stroke-width="1"/>
<line x1="452.2" y1="403.8" x2="458.2" y2="403.8" stroke="#666" stroke-width="1"/>
<line x1="452.2" y1="410.2" x2="458.2" y2="410.2" stroke="#666" stroke-width="1"/>
<line x1="449.2" y1="407" x2="461.2" y2="407" stroke="#666" stroke-width="1"/>
<path d="M452.40 400.14 L453.80 402.57 L451.00 402.57 Z" fill="#fff" fill-opacity="0.0" stroke="#f02a82" stroke-width="0.7" stroke-linejoin="round"/>
<path d="M451.50 402.34 L452.90 404.77 L450.10 404.77 Z" fill="#fff" fill-opacity="0.0" stroke="#f02a82" stroke-width="0.7" stroke-linejoin="round"/>
<path d="M457.90 402.34 L459.30 404.77 L456.50 404.77 Z" fill="#fff" fill-opacity="0.0" stroke="#f02a82" stroke-width="0.7" stroke-linejoin="round"/>
<path d="M449.70 405.04 L451.10 407.47 L448.30 407.47 Z" fill="#fff" fill-opacity="0.0" stroke="#f02a82" stroke-width="0.7" stroke-linejoin="round"/>
<path d="M454.30 405.94 L455.70 408.37 L452.90 408.37 Z" fill="#fff" fill-opacity="0.0" stroke="#f02a82" stroke-width="0.7" stroke-linejoin="round"/>
<path d="M458.80 405.94 L460.20 408.37 L457.40 408.37 Z" fill="#fff" fill-opacity="0.0" stroke="#f02a82" stroke-width="0.7" stroke-linejoin="round"/>
<path d="M461.60 406.34 L463.00 408.77 L460.20 408.77 Z" fill="#fff" fill-opacity="0.0" stroke="#f02a82" stroke-width="0.7" stroke-linejoin="round"/>
<path d="M452.40 407.44 L453.80 409.87 L451.00 409.87 Z" fill="#fff" fill-opacity="0.0" stroke="#f02a82" stroke-width="0.7" stroke-linejoin="round"/>
<path d="M457.00 407.44 L458.40 409.87 L455.60 409.87 Z" fill="#fff" fill-opacity="0.0" stroke="#f02a82" stroke-width="0.7" stroke-linejoin="round"/>
<path d="M455.20 411.04 L456.60 413.47 L453.80 413.47 Z" fill="#fff" fill-opacity="0.0" stroke="#f02a82" stroke-width="0.7" stroke-linejoin="round"/>
<line x1="488.5" y1="395" x2="488.5" y2="404.5" stroke="#666" stroke-width="1"/>
<line x1="485.1" y1="395" x2="491.1" y2="395" stroke="#666" stroke-width="1"/>
<line x1="485.1" y1="404.5" x2="491.1" y2="404.5" stroke="#666" stroke-width="1"/>
<line x1="482.1" y1="399.7" x2="494.1" y2="399.7" stroke="#666" stroke-width="1"/>
<circle cx="487.20" cy="392.40" r="1.55" fill="#000"/>
<circle cx="483.50" cy="394.60" r="1.55" fill="#000"/>
<circle cx="489.90" cy="394.30" r="1.55" fill="#000"/>
<circle cx="485.30" cy="397.90" r="1.55" fill="#000"/>
<circle cx="489.90" cy="398.30" r="1.55" fill="#000"/>
<circle cx="483.50" cy="401.00" r="1.55" fill="#000"/>
<circle cx="490.80" cy="402.30" r="1.55" fill="#000"/>
<circle cx="487.20" cy="404.70" r="1.55" fill="#000"/>
<circle cx="483.50" cy="406.50" r="1.55" fill="#000"/>
<circle cx="493.60" cy="405.20" r="1.55" fill="#000"/>
<line x1="508.5" y1="388.2" x2="508.5" y2="398.3" stroke="#666" stroke-width="1"/>
<line x1="505.2" y1="388.2" x2="511.2" y2="388.2" stroke="#666" stroke-width="1"/>
<line x1="505.2" y1="398.3" x2="511.2" y2="398.3" stroke="#666" stroke-width="1"/>
<line x1="502.2" y1="393.2" x2="514.2" y2="393.2" stroke="#666" stroke-width="1"/>
<path d="M503.60 386.74 L505.00 389.17 L502.20 389.17 Z" fill="#fff" fill-opacity="0.0" stroke="#f02a82" stroke-width="0.7" stroke-linejoin="round"/>
<path d="M509.10 385.84 L510.50 388.27 L507.70 388.27 Z" fill="#fff" fill-opacity="0.0" stroke="#f02a82" stroke-width="0.7" stroke-linejoin="round"/>
<path d="M513.70 386.74 L515.10 389.17 L512.30 389.17 Z" fill="#fff" fill-opacity="0.0" stroke="#f02a82" stroke-width="0.7" stroke-linejoin="round"/>
<path d="M501.80 388.54 L503.20 390.97 L500.40 390.97 Z" fill="#fff" fill-opacity="0.0" stroke="#f02a82" stroke-width="0.7" stroke-linejoin="round"/>
<path d="M509.10 389.84 L510.50 392.27 L507.70 392.27 Z" fill="#fff" fill-opacity="0.0" stroke="#f02a82" stroke-width="0.7" stroke-linejoin="round"/>
<path d="M503.60 396.44 L505.00 398.87 L502.20 398.87 Z" fill="#fff" fill-opacity="0.0" stroke="#f02a82" stroke-width="0.7" stroke-linejoin="round"/>
<path d="M508.20 396.84 L509.60 399.27 L506.80 399.27 Z" fill="#fff" fill-opacity="0.0" stroke="#f02a82" stroke-width="0.7" stroke-linejoin="round"/>
<path d="M512.80 396.44 L514.20 398.87 L511.40 398.87 Z" fill="#fff" fill-opacity="0.0" stroke="#f02a82" stroke-width="0.7" stroke-linejoin="round"/>
<path d="M506.40 399.04 L507.80 401.47 L505.00 401.47 Z" fill="#fff" fill-opacity="0.0" stroke="#f02a82" stroke-width="0.7" stroke-linejoin="round"/>
<path d="M508.20 400.84 L509.60 403.27 L506.80 403.27 Z" fill="#fff" fill-opacity="0.0" stroke="#f02a82" stroke-width="0.7" stroke-linejoin="round"/>
<rect x="475.6" y="421.7" width="42.6" height="16.9" fill="#fff" stroke="#bbb" stroke-width="0.7"/>
<circle cx="479.60" cy="426.50" r="0.95" fill="#000"/>
<text x="0" y="0" font-size="5.8" text-anchor="start" font-weight="normal" font-style="italic" fill="#111" transform="translate(487.7 428.6) scale(1 1.12)">Cd226 WT</text>
<path d="M479.60 432.35 L480.80 434.44 L478.40 434.44 Z" fill="#fff" fill-opacity="0.0" stroke="#f02a82" stroke-width="0.7" stroke-linejoin="round"/>
<text x="0" y="0" font-size="5.8" text-anchor="start" font-weight="normal" font-style="italic" fill="#111" transform="translate(487.7 435.3) scale(1 1.12)">Cd226 gKO</text>
</svg>
</body></html>
